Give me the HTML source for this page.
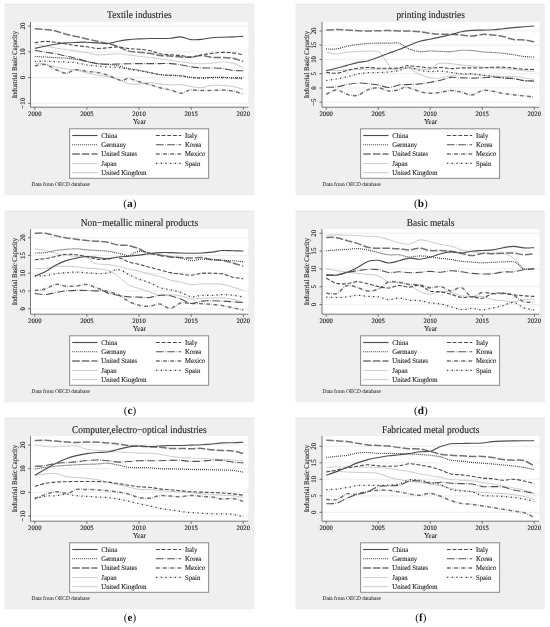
<!DOCTYPE html>
<html><head><meta charset="utf-8"><title>Industrial Basic Capacity</title>
<style>
html,body{margin:0;padding:0;background:#fff;}
svg{display:block;font-family:"Liberation Serif", "Times New Roman", serif;text-rendering:geometricPrecision;}
</style></head><body>
<svg width="550" height="627" viewBox="0 0 550 627">
<rect x="4.3" y="3.5" width="250.2" height="191.8" fill="#efefef"/>
<path d="M5.3,4.7H253.5" stroke="#e8e8e8" stroke-width="1"/>
<rect x="30.5" y="22" width="217.8" height="85.2" fill="#ffffff"/>
<line x1="30.5" x2="248.3" y1="103.3" y2="103.3" stroke="#eaeaea" stroke-width="0.8"/>
<line x1="30.5" x2="248.3" y1="77.57" y2="77.57" stroke="#eaeaea" stroke-width="0.8"/>
<line x1="30.5" x2="248.3" y1="51.83" y2="51.83" stroke="#eaeaea" stroke-width="0.8"/>
<line x1="30.5" x2="248.3" y1="26.1" y2="26.1" stroke="#eaeaea" stroke-width="0.8"/>
<path d="M34.8,44.2C36.54,44.5 41.75,45.37 45.22,46C48.7,46.63 52.17,47.42 55.65,48C59.12,48.58 62.6,49 66.07,49.5C69.55,50 73.03,50.47 76.5,51C79.97,51.53 83.45,52.05 86.92,52.7C90.4,53.35 93.88,54.62 97.35,54.9C100.82,55.18 104.3,54.58 107.77,54.4C111.25,54.22 114.72,53.72 118.2,53.8C121.68,53.88 125.15,54.48 128.62,54.9C132.1,55.32 135.58,55.87 139.05,56.3C142.53,56.73 146,57.1 149.47,57.5C152.95,57.9 156.42,58.22 159.9,58.7C163.37,59.18 166.85,59.85 170.32,60.4C173.8,60.95 177.28,61.55 180.75,62C184.22,62.45 187.7,62.8 191.18,63.1C194.65,63.4 198.13,63.8 201.6,63.8C205.08,63.8 208.55,63.4 212.02,63.1C215.5,62.8 218.97,62 222.45,62C225.92,62 229.4,62.1 232.88,63.1C236.35,64.1 241.56,67.18 243.3,68" fill="none" stroke="#d2d2d2" stroke-width="1.1"/>
<path d="M34.8,63.1C36.54,63.27 41.75,63.47 45.22,64.1C48.7,64.73 52.17,66.1 55.65,66.9C59.12,67.7 62.6,68.35 66.07,68.9C69.55,69.45 73.03,69.52 76.5,70.2C79.97,70.88 83.45,72.17 86.92,73C90.4,73.83 93.88,74.57 97.35,75.2C100.82,75.83 104.3,76.08 107.77,76.8C111.25,77.52 114.72,78.37 118.2,79.5C121.68,80.63 125.15,82.82 128.62,83.6C132.1,84.38 135.58,84.33 139.05,84.2C142.53,84.07 146,82.85 149.47,82.8C152.95,82.75 156.42,83.53 159.9,83.9C163.37,84.27 166.85,84.9 170.32,85C173.8,85.1 177.28,84.23 180.75,84.5C184.22,84.77 187.7,86.07 191.18,86.6C194.65,87.13 198.13,87.92 201.6,87.7C205.08,87.48 208.55,85.67 212.02,85.3C215.5,84.93 218.97,85.32 222.45,85.5C225.92,85.68 229.4,85.75 232.88,86.4C236.35,87.05 241.56,88.9 243.3,89.4" fill="none" stroke="#c8c8c8" stroke-width="1.0"/>
<path d="M34.8,28.7C36.54,28.85 41.75,29.23 45.22,29.6C48.7,29.97 52.17,30.13 55.65,30.9C59.12,31.67 62.6,33.25 66.07,34.2C69.55,35.15 73.03,35.82 76.5,36.6C79.97,37.38 83.45,38.12 86.92,38.9C90.4,39.68 93.88,40.53 97.35,41.3C100.82,42.07 104.3,42.6 107.77,43.5C111.25,44.4 114.72,45.43 118.2,46.7C121.68,47.97 125.15,50.18 128.62,51.1C132.1,52.02 135.58,51.83 139.05,52.2C142.53,52.57 146,52.75 149.47,53.3C152.95,53.85 156.42,55.05 159.9,55.5C163.37,55.95 166.85,55.73 170.32,56C173.8,56.27 177.28,56.92 180.75,57.1C184.22,57.28 187.7,57.37 191.18,57.1C194.65,56.83 198.13,55.47 201.6,55.5C205.08,55.53 208.55,56.95 212.02,57.3C215.5,57.65 218.97,57.45 222.45,57.6C225.92,57.75 229.4,57.55 232.88,58.2C236.35,58.85 241.56,60.95 243.3,61.5" fill="none" stroke="#727272" stroke-width="1.5" stroke-dasharray="7.6 2"/>
<path d="M34.8,65.8C36.54,65.6 41.75,63.98 45.22,64.6C48.7,65.22 52.17,68.03 55.65,69.5C59.12,70.97 63.47,73.12 66.07,73.4C68.68,73.68 69.55,71.82 71.29,71.2C73.02,70.58 73.89,69.67 76.5,69.7C79.11,69.73 83.45,70.93 86.92,71.4C90.4,71.87 93.88,71.87 97.35,72.5C100.82,73.13 104.3,74.03 107.77,75.2C111.25,76.37 115.77,78.6 118.2,79.5C120.63,80.4 120.63,80.77 122.37,80.6C124.11,80.43 125.85,78.32 128.62,78.5C131.4,78.68 135.58,80.7 139.05,81.7C142.53,82.7 146,83.5 149.47,84.5C152.95,85.5 156.42,86.8 159.9,87.7C163.37,88.6 166.85,88.98 170.32,89.9C173.8,90.82 178.14,92.93 180.75,93.2C183.36,93.47 184.22,92.05 185.96,91.5C187.7,90.95 188.57,90.07 191.18,89.9C193.78,89.73 198.13,90.4 201.6,90.5C205.08,90.6 208.55,90.57 212.02,90.5C215.5,90.43 218.97,90.02 222.45,90.1C225.92,90.18 229.4,90.3 232.88,91C236.35,91.7 241.56,93.75 243.3,94.3" fill="none" stroke="#707070" stroke-width="1.5" stroke-dasharray="3.8 1.45 0.5 1.45"/>
<path d="M34.8,50.3C36.54,50.62 41.75,51.62 45.22,52.2C48.7,52.78 52.17,53.17 55.65,53.8C59.12,54.43 62.6,55.23 66.07,56C69.55,56.77 73.03,57.48 76.5,58.4C79.97,59.32 83.45,60.63 86.92,61.5C90.4,62.37 93.88,63.15 97.35,63.6C100.82,64.05 104.3,64.13 107.77,64.2C111.25,64.27 114.72,64.07 118.2,64C121.68,63.93 125.15,63.87 128.62,63.8C132.1,63.73 135.58,63.63 139.05,63.6C142.53,63.57 146,63.6 149.47,63.6C152.95,63.6 156.42,63.6 159.9,63.6C163.37,63.6 166.85,63.42 170.32,63.6C173.8,63.78 177.28,64.15 180.75,64.7C184.22,65.25 187.7,66.38 191.18,66.9C194.65,67.42 198.13,67.62 201.6,67.8C205.08,67.98 208.55,67.88 212.02,68C215.5,68.12 218.97,68.1 222.45,68.5C225.92,68.9 229.4,70.03 232.88,70.4C236.35,70.77 241.56,70.65 243.3,70.7" fill="none" stroke="#505050" stroke-width="1.1" stroke-dasharray="7.7 1.5 0.6 1.5"/>
<path d="M34.8,42.7C36.54,42.47 41.75,41.35 45.22,41.3C48.7,41.25 52.17,41.95 55.65,42.4C59.12,42.85 62.6,43.47 66.07,44C69.55,44.53 73.03,45.15 76.5,45.6C79.97,46.05 83.45,46.23 86.92,46.7C90.4,47.17 93.88,48.22 97.35,48.4C100.82,48.58 104.3,48.05 107.77,47.8C111.25,47.55 114.72,46.77 118.2,46.9C121.68,47.03 125.15,48.2 128.62,48.6C132.1,49 135.58,48.98 139.05,49.3C142.53,49.62 146,49.75 149.47,50.5C152.95,51.25 156.42,53.1 159.9,53.8C163.37,54.5 166.85,54.42 170.32,54.7C173.8,54.98 177.28,55.1 180.75,55.5C184.22,55.9 187.7,57.2 191.18,57.1C194.65,57 198.13,55.53 201.6,54.9C205.08,54.27 208.55,53.72 212.02,53.3C215.5,52.88 218.97,52.47 222.45,52.4C225.92,52.33 229.4,52.52 232.88,52.9C236.35,53.28 241.56,54.4 243.3,54.7" fill="none" stroke="#4a4a4a" stroke-width="1.1" stroke-dasharray="3.9 1.8"/>
<path d="M34.8,61.5C36.54,61.45 41.75,61.17 45.22,61.2C48.7,61.23 52.17,61.57 55.65,61.7C59.12,61.83 62.6,61.82 66.07,62C69.55,62.18 73.03,62.3 76.5,62.8C79.97,63.3 83.45,64.47 86.92,65C90.4,65.53 93.88,65.67 97.35,66C100.82,66.33 104.3,66.75 107.77,67C111.25,67.25 114.72,67.13 118.2,67.5C121.68,67.87 125.15,68.65 128.62,69.2C132.1,69.75 135.58,70.25 139.05,70.8C142.53,71.35 146,71.87 149.47,72.5C152.95,73.13 156.42,74.1 159.9,74.6C163.37,75.1 166.85,75.27 170.32,75.5C173.8,75.73 177.28,75.65 180.75,76C184.22,76.35 187.7,77.23 191.18,77.6C194.65,77.97 198.13,78.17 201.6,78.2C205.08,78.23 208.55,77.87 212.02,77.8C215.5,77.73 218.97,77.73 222.45,77.8C225.92,77.87 229.4,78.03 232.88,78.2C236.35,78.37 241.56,78.7 243.3,78.8" fill="none" stroke="#404040" stroke-width="1.25" stroke-dasharray="1.4 1.5 0.3 1.5"/>
<path d="M34.8,56.5C36.54,56.58 41.75,56.82 45.22,57C48.7,57.18 52.17,57.4 55.65,57.6C59.12,57.8 62.6,57.88 66.07,58.2C69.55,58.52 73.03,58.95 76.5,59.5C79.97,60.05 83.45,60.82 86.92,61.5C90.4,62.18 93.88,63.15 97.35,63.6C100.82,64.05 104.3,63.83 107.77,64.2C111.25,64.57 114.72,65.08 118.2,65.8C121.68,66.52 125.15,67.77 128.62,68.5C132.1,69.23 135.58,69.53 139.05,70.2C142.53,70.87 146,71.77 149.47,72.5C152.95,73.23 156.42,74.15 159.9,74.6C163.37,75.05 166.85,75.02 170.32,75.2C173.8,75.38 177.28,75.33 180.75,75.7C184.22,76.07 187.7,77.03 191.18,77.4C194.65,77.77 198.13,77.9 201.6,77.9C205.08,77.9 208.55,77.48 212.02,77.4C215.5,77.32 218.97,77.32 222.45,77.4C225.92,77.48 229.4,77.82 232.88,77.9C236.35,77.98 241.56,77.9 243.3,77.9" fill="none" stroke="#333333" stroke-width="1.15" stroke-dasharray="0.95 1.05"/>
<path d="M34.8,48.4C36.54,48.03 41.75,46.9 45.22,46.2C48.7,45.5 52.17,44.75 55.65,44.2C59.12,43.65 62.6,43.2 66.07,42.9C69.55,42.6 73.03,42.52 76.5,42.4C79.97,42.28 83.45,42.12 86.92,42.2C90.4,42.28 93.88,42.68 97.35,42.9C100.82,43.12 104.3,43.77 107.77,43.5C111.25,43.23 114.72,41.95 118.2,41.3C121.68,40.65 125.15,40 128.62,39.6C132.1,39.2 135.58,39.08 139.05,38.9C142.53,38.72 146,38.57 149.47,38.5C152.95,38.43 156.42,38.53 159.9,38.5C163.37,38.47 166.85,38.57 170.32,38.3C173.8,38.03 177.28,36.68 180.75,36.9C184.22,37.12 187.7,39.18 191.18,39.6C194.65,40.02 198.13,39.72 201.6,39.4C205.08,39.08 208.55,38.07 212.02,37.7C215.5,37.33 218.97,37.33 222.45,37.2C225.92,37.07 229.4,37.03 232.88,36.9C236.35,36.77 241.56,36.48 243.3,36.4" fill="none" stroke="#4d4d4d" stroke-width="1.15"/>
<line x1="30.5" x2="30.5" y1="22" y2="107.2" stroke="#555" stroke-width="0.8"/>
<line x1="30.5" x2="248.3" y1="107.2" y2="107.2" stroke="#555" stroke-width="0.8"/>
<line x1="28" x2="30.5" y1="103.3" y2="103.3" stroke="#555" stroke-width="0.8"/>
<text transform="translate(24.6 103.3) rotate(-90) scale(1 1.02)" font-size="6.9" text-anchor="middle" fill="#222" stroke="#222" stroke-width="0.1">−10</text>
<line x1="28" x2="30.5" y1="77.57" y2="77.57" stroke="#555" stroke-width="0.8"/>
<text transform="translate(24.6 77.57) rotate(-90) scale(1 1.02)" font-size="6.9" text-anchor="middle" fill="#222" stroke="#222" stroke-width="0.1">0</text>
<line x1="28" x2="30.5" y1="51.83" y2="51.83" stroke="#555" stroke-width="0.8"/>
<text transform="translate(24.6 51.83) rotate(-90) scale(1 1.02)" font-size="6.9" text-anchor="middle" fill="#222" stroke="#222" stroke-width="0.1">10</text>
<line x1="28" x2="30.5" y1="26.1" y2="26.1" stroke="#555" stroke-width="0.8"/>
<text transform="translate(24.6 26.1) rotate(-90) scale(1 1.02)" font-size="6.9" text-anchor="middle" fill="#222" stroke="#222" stroke-width="0.1">20</text>
<line x1="34.8" x2="34.8" y1="107.2" y2="109.8" stroke="#555" stroke-width="0.8"/>
<text transform="translate(34.8 116.2) scale(1 1.0)" font-size="6.7" text-anchor="middle" fill="#222" stroke="#222" stroke-width="0.14">2000</text>
<line x1="86.92" x2="86.92" y1="107.2" y2="109.8" stroke="#555" stroke-width="0.8"/>
<text transform="translate(86.92 116.2) scale(1 1.0)" font-size="6.7" text-anchor="middle" fill="#222" stroke="#222" stroke-width="0.14">2005</text>
<line x1="139.05" x2="139.05" y1="107.2" y2="109.8" stroke="#555" stroke-width="0.8"/>
<text transform="translate(139.05 116.2) scale(1 1.0)" font-size="6.7" text-anchor="middle" fill="#222" stroke="#222" stroke-width="0.14">2010</text>
<line x1="191.18" x2="191.18" y1="107.2" y2="109.8" stroke="#555" stroke-width="0.8"/>
<text transform="translate(191.18 116.2) scale(1 1.0)" font-size="6.7" text-anchor="middle" fill="#222" stroke="#222" stroke-width="0.14">2015</text>
<line x1="243.3" x2="243.3" y1="107.2" y2="109.8" stroke="#555" stroke-width="0.8"/>
<text transform="translate(243.3 116.2) scale(1 1.0)" font-size="6.7" text-anchor="middle" fill="#222" stroke="#222" stroke-width="0.14">2020</text>
<text transform="translate(139.4 123.6) scale(1 1.08)" font-size="6.95" text-anchor="middle" fill="#222" stroke="#222" stroke-width="0.1">Year</text>
<text transform="translate(17.1 64.6) rotate(-90) scale(1 1.08)" font-size="6.65" text-anchor="middle" fill="#222" stroke="#222" stroke-width="0.1">Industrial Basic Capacity</text>
<text transform="translate(139.4 18.4) scale(1 1.1)" font-size="9.38" text-anchor="middle" fill="#222" stroke="#222" stroke-width="0.1">Textile industries</text>
<rect x="69.6" y="128.8" width="139" height="49.5" fill="#ffffff" stroke="#8a8a8a" stroke-width="1"/>
<line x1="72.2" x2="97.5" y1="135.5" y2="135.5" stroke="#4d4d4d" stroke-width="1.15"/>
<text transform="translate(101.3 137.6) scale(1 1.06)" font-size="6.7" fill="#222" stroke="#222" stroke-width="0.1">China</text>
<line x1="72.2" x2="97.5" y1="144.7" y2="144.7" stroke="#333333" stroke-width="1.15" stroke-dasharray="0.95 1.05"/>
<text transform="translate(101.3 146.9) scale(1 1.06)" font-size="6.7" fill="#222" stroke="#222" stroke-width="0.1">Germany</text>
<line x1="72.2" x2="97.5" y1="154.1" y2="154.1" stroke="#727272" stroke-width="1.5" stroke-dasharray="7.6 2"/>
<text transform="translate(101.3 156.2) scale(1 1.06)" font-size="6.7" fill="#222" stroke="#222" stroke-width="0.1">United States</text>
<line x1="72.2" x2="97.5" y1="163.5" y2="163.5" stroke="#d2d2d2" stroke-width="1.1"/>
<text transform="translate(101.3 165.5) scale(1 1.06)" font-size="6.7" fill="#222" stroke="#222" stroke-width="0.1">Japan</text>
<line x1="72.2" x2="97.5" y1="172.7" y2="172.7" stroke="#c8c8c8" stroke-width="1.0"/>
<text transform="translate(101.3 174.8) scale(1 1.06)" font-size="6.7" fill="#222" stroke="#222" stroke-width="0.1">United Kingdom</text>
<line x1="155.9" x2="181.2" y1="135.5" y2="135.5" stroke="#4a4a4a" stroke-width="1.1" stroke-dasharray="3.9 1.8"/>
<text transform="translate(185 137.6) scale(1 1.06)" font-size="6.7" fill="#222" stroke="#222" stroke-width="0.1">Italy</text>
<line x1="155.9" x2="181.2" y1="144.7" y2="144.7" stroke="#505050" stroke-width="1.1" stroke-dasharray="7.7 1.5 0.6 1.5"/>
<text transform="translate(185 146.9) scale(1 1.06)" font-size="6.7" fill="#222" stroke="#222" stroke-width="0.1">Korea</text>
<line x1="155.9" x2="181.2" y1="154.1" y2="154.1" stroke="#707070" stroke-width="1.5" stroke-dasharray="3.8 1.45 0.5 1.45"/>
<text transform="translate(185 156.2) scale(1 1.06)" font-size="6.7" fill="#222" stroke="#222" stroke-width="0.1">Mexico</text>
<line x1="155.9" x2="181.2" y1="163.4" y2="163.4" stroke="#404040" stroke-width="1.25" stroke-dasharray="1.4 1.5 0.3 1.5"/>
<text transform="translate(185 165.5) scale(1 1.06)" font-size="6.7" fill="#222" stroke="#222" stroke-width="0.1">Spain</text>
<text transform="translate(31.5 186) scale(1 1.02)" font-size="5.45" fill="#222" stroke="#222" stroke-width="0.04">Data from OECD database</text>
<text transform="translate(129.9 207.2) scale(1 0.98)" font-size="11.2" text-anchor="middle" fill="#111" stroke="#111" stroke-width="0">(<tspan font-weight="bold">a</tspan>)</text>
<rect x="295.5" y="3.5" width="249.6" height="191.8" fill="#efefef"/>
<path d="M296.5,4.7H544.1" stroke="#e8e8e8" stroke-width="1"/>
<rect x="322" y="22" width="217.3" height="85.2" fill="#ffffff"/>
<line x1="322" x2="539.3" y1="102.2" y2="102.2" stroke="#eaeaea" stroke-width="0.8"/>
<line x1="322" x2="539.3" y1="87.94" y2="87.94" stroke="#eaeaea" stroke-width="0.8"/>
<line x1="322" x2="539.3" y1="73.68" y2="73.68" stroke="#eaeaea" stroke-width="0.8"/>
<line x1="322" x2="539.3" y1="59.42" y2="59.42" stroke="#eaeaea" stroke-width="0.8"/>
<line x1="322" x2="539.3" y1="45.16" y2="45.16" stroke="#eaeaea" stroke-width="0.8"/>
<line x1="322" x2="539.3" y1="30.9" y2="30.9" stroke="#eaeaea" stroke-width="0.8"/>
<path d="M326.2,52.2C327.93,52.5 333.14,54 336.6,54C340.07,54 343.54,52.6 347.01,52.2C350.48,51.8 353.95,51.78 357.41,51.6C360.88,51.42 364.35,51.12 367.82,51.1C371.29,51.08 375.62,50.52 378.22,51.5C380.83,52.48 381.69,54.75 383.43,57C385.16,59.25 387.24,63 388.63,65C390.02,67 390.02,68.33 391.75,69C393.49,69.67 396.09,69.15 399.03,69C401.98,68.85 406.84,67.7 409.44,68.1C412.04,68.5 412.91,70.32 414.64,71.4C416.38,72.48 417.24,73.52 419.84,74.6C422.45,75.68 426.78,77.33 430.25,77.9C433.72,78.47 437.19,78.37 440.65,78C444.12,77.63 447.59,76.3 451.06,75.7C454.53,75.1 458,74.62 461.46,74.4C464.93,74.18 468.4,74.27 471.87,74.4C475.34,74.53 478.81,74.93 482.27,75.2C485.74,75.47 489.21,75.78 492.68,76C496.15,76.22 499.62,76.45 503.08,76.5C506.55,76.55 510.02,76.05 513.49,76.3C516.96,76.55 520.43,77.47 523.89,78C527.36,78.53 532.57,79.25 534.3,79.5" fill="none" stroke="#d2d2d2" stroke-width="1.1"/>
<path d="M326.2,70.3C327.93,70.33 333.14,70.55 336.6,70.5C340.07,70.45 343.54,70.17 347.01,70C350.48,69.83 353.95,69.63 357.41,69.5C360.88,69.37 364.35,69.25 367.82,69.2C371.29,69.15 374.76,69.2 378.22,69.2C381.69,69.2 385.16,69.32 388.63,69.2C392.1,69.08 395.57,68.68 399.03,68.5C402.5,68.32 405.97,68.02 409.44,68.1C412.91,68.18 416.38,68.82 419.84,69C423.31,69.18 427.13,70.12 430.25,69.2C433.37,68.28 435.11,64.42 438.57,63.5C442.04,62.58 447.24,63.45 451.06,63.7C454.88,63.95 458,64.63 461.46,65C464.93,65.37 468.4,65.57 471.87,65.9C475.34,66.23 478.81,66.63 482.27,67C485.74,67.37 489.21,67.85 492.68,68.1C496.15,68.35 499.62,68.27 503.08,68.5C506.55,68.73 510.02,69.12 513.49,69.5C516.96,69.88 520.43,70.48 523.89,70.8C527.36,71.12 532.57,71.3 534.3,71.4" fill="none" stroke="#c8c8c8" stroke-width="1.0"/>
<path d="M326.2,30C327.93,29.93 333.14,29.6 336.6,29.6C340.07,29.6 343.54,29.82 347.01,30C350.48,30.18 353.95,30.52 357.41,30.7C360.88,30.88 364.35,31.1 367.82,31.1C371.29,31.1 374.76,30.78 378.22,30.7C381.69,30.62 385.16,30.57 388.63,30.6C392.1,30.63 395.57,30.82 399.03,30.9C402.5,30.98 405.97,30.95 409.44,31.1C412.91,31.25 416.38,31.43 419.84,31.8C423.31,32.17 426.78,32.9 430.25,33.3C433.72,33.7 437.19,34.05 440.65,34.2C444.12,34.35 447.59,34.05 451.06,34.2C454.53,34.35 458,34.78 461.46,35.1C464.93,35.42 468.4,36.22 471.87,36.1C475.34,35.98 478.81,34.57 482.27,34.4C485.74,34.23 489.21,34.77 492.68,35.1C496.15,35.43 499.62,35.65 503.08,36.4C506.55,37.15 510.02,39.02 513.49,39.6C516.96,40.18 520.43,39.53 523.89,39.9C527.36,40.27 532.57,41.48 534.3,41.8" fill="none" stroke="#727272" stroke-width="1.5" stroke-dasharray="7.6 2"/>
<path d="M326.2,94.3C327.93,93.57 333.14,89.9 336.6,89.9C340.07,89.9 343.54,93.38 347.01,94.3C350.48,95.22 353.95,96.13 357.41,95.4C360.88,94.67 364.35,91.18 367.82,89.9C371.29,88.62 374.76,87.52 378.22,87.7C381.69,87.88 385.16,90.67 388.63,91C392.1,91.33 396.09,90.33 399.03,89.7C401.98,89.07 402.85,86.9 406.32,87.2C409.79,87.5 415.86,90.48 419.84,91.5C423.83,92.52 426.78,93.17 430.25,93.3C433.72,93.43 437.19,92.77 440.65,92.3C444.12,91.83 447.59,90.53 451.06,90.5C454.53,90.47 458,91.33 461.46,92.1C464.93,92.87 468.4,95.37 471.87,95.1C475.34,94.83 478.81,91.15 482.27,90.5C485.74,89.85 489.21,90.72 492.68,91.2C496.15,91.68 499.62,92.8 503.08,93.4C506.55,94 510.02,94.38 513.49,94.8C516.96,95.22 520.43,95.53 523.89,95.9C527.36,96.27 532.57,96.82 534.3,97" fill="none" stroke="#707070" stroke-width="1.5" stroke-dasharray="3.8 1.45 0.5 1.45"/>
<path d="M326.2,87.2C327.93,87.15 333.14,87.35 336.6,86.9C340.07,86.45 343.54,85.13 347.01,84.5C350.48,83.87 353.95,83.25 357.41,83.1C360.88,82.95 364.35,83.28 367.82,83.6C371.29,83.92 374.76,84.35 378.22,85C381.69,85.65 385.16,87.5 388.63,87.5C392.1,87.5 395.57,85.5 399.03,85C402.5,84.5 405.97,84.68 409.44,84.5C412.91,84.32 416.38,84.27 419.84,83.9C423.31,83.53 426.78,82.9 430.25,82.3C433.72,81.7 437.19,81.12 440.65,80.3C444.12,79.48 447.59,77.8 451.06,77.4C454.53,77 458,77.78 461.46,77.9C464.93,78.02 468.4,78.1 471.87,78.1C475.34,78.1 478.81,78.08 482.27,77.9C485.74,77.72 489.21,77 492.68,77C496.15,77 499.62,77.65 503.08,77.9C506.55,78.15 510.02,78.05 513.49,78.5C516.96,78.95 520.43,80.18 523.89,80.6C527.36,81.02 532.57,80.93 534.3,81" fill="none" stroke="#505050" stroke-width="1.1" stroke-dasharray="7.7 1.5 0.6 1.5"/>
<path d="M326.2,72.4C327.93,72.53 333.14,73.52 336.6,73.2C340.07,72.88 343.54,71.33 347.01,70.5C350.48,69.67 353.95,68.7 357.41,68.2C360.88,67.7 364.35,67.5 367.82,67.5C371.29,67.5 374.76,68.07 378.22,68.2C381.69,68.33 385.16,68.33 388.63,68.3C392.1,68.27 396.09,68.42 399.03,68C401.98,67.58 404.58,66.15 406.32,65.8C408.05,65.45 407.19,65.73 409.44,65.9C411.69,66.07 416.38,66.45 419.84,66.8C423.31,67.15 426.78,67.88 430.25,68C433.72,68.12 437.19,67.4 440.65,67.5C444.12,67.6 447.59,68.53 451.06,68.6C454.53,68.67 458,68.02 461.46,67.9C464.93,67.78 468.4,67.9 471.87,67.9C475.34,67.9 478.81,68 482.27,67.9C485.74,67.8 489.21,67.42 492.68,67.3C496.15,67.18 499.62,67.07 503.08,67.2C506.55,67.33 510.02,67.77 513.49,68.1C516.96,68.43 520.43,68.97 523.89,69.2C527.36,69.43 532.57,69.45 534.3,69.5" fill="none" stroke="#4a4a4a" stroke-width="1.1" stroke-dasharray="3.9 1.8"/>
<path d="M326.2,80.6C327.93,80.33 333.14,79.63 336.6,79C340.07,78.37 343.54,77.62 347.01,76.8C350.48,75.98 353.95,74.78 357.41,74.1C360.88,73.42 364.35,72.97 367.82,72.7C371.29,72.43 374.76,72.62 378.22,72.5C381.69,72.38 385.16,72.33 388.63,72C392.1,71.67 396.26,71.15 399.03,70.5C401.81,69.85 403.54,68.6 405.28,68.1C407.01,67.6 407.01,67.13 409.44,67.5C411.87,67.87 416.38,69.62 419.84,70.3C423.31,70.98 426.78,71.47 430.25,71.6C433.72,71.73 437.19,70.95 440.65,71.1C444.12,71.25 447.59,72.05 451.06,72.5C454.53,72.95 458,73.58 461.46,73.8C464.93,74.02 468.4,73.57 471.87,73.8C475.34,74.03 478.81,74.75 482.27,75.2C485.74,75.65 489.21,76.05 492.68,76.5C496.15,76.95 499.62,77.57 503.08,77.9C506.55,78.23 510.02,78.05 513.49,78.5C516.96,78.95 520.43,80.15 523.89,80.6C527.36,81.05 532.57,81.1 534.3,81.2" fill="none" stroke="#404040" stroke-width="1.25" stroke-dasharray="1.4 1.5 0.3 1.5"/>
<path d="M326.2,48.9C327.93,48.9 333.14,49.35 336.6,48.9C340.07,48.45 343.54,46.93 347.01,46.2C350.48,45.47 353.95,44.95 357.41,44.5C360.88,44.05 364.35,43.73 367.82,43.5C371.29,43.27 374.76,43.17 378.22,43.1C381.69,43.03 385.16,43.1 388.63,43.1C392.1,43.1 396.43,42.58 399.03,43.1C401.64,43.62 402.5,45.18 404.24,46.2C405.97,47.22 406.84,48.3 409.44,49.2C412.04,50.1 416.38,51.3 419.84,51.6C423.31,51.9 426.78,51.03 430.25,51C433.72,50.97 437.19,51.3 440.65,51.4C444.12,51.5 447.59,51.78 451.06,51.6C454.53,51.42 458,50.48 461.46,50.3C464.93,50.12 468.4,50.23 471.87,50.5C475.34,50.77 478.81,51.57 482.27,51.9C485.74,52.23 489.21,52.27 492.68,52.5C496.15,52.73 499.62,52.93 503.08,53.3C506.55,53.67 510.02,54.17 513.49,54.7C516.96,55.23 520.43,56.1 523.89,56.5C527.36,56.9 532.57,57 534.3,57.1" fill="none" stroke="#333333" stroke-width="1.15" stroke-dasharray="0.95 1.05"/>
<path d="M326.2,70.6C327.93,70.22 333.14,69.17 336.6,68.3C340.07,67.43 343.54,66.35 347.01,65.4C350.48,64.45 353.95,63.33 357.41,62.6C360.88,61.87 364.35,61.9 367.82,61C371.29,60.1 374.76,58.48 378.22,57.2C381.69,55.92 385.16,54.58 388.63,53.3C392.1,52.02 395.57,50.83 399.03,49.5C402.5,48.17 405.97,46.67 409.44,45.3C412.91,43.93 416.38,42.32 419.84,41.3C423.31,40.28 426.78,39.93 430.25,39.2C433.72,38.47 437.19,37.65 440.65,36.9C444.12,36.15 447.59,35.55 451.06,34.7C454.53,33.85 458,32.52 461.46,31.8C464.93,31.08 468.4,30.68 471.87,30.4C475.34,30.12 478.81,30.2 482.27,30.1C485.74,30 489.21,30.03 492.68,29.8C496.15,29.57 499.62,29.07 503.08,28.7C506.55,28.33 510.02,27.92 513.49,27.6C516.96,27.28 520.43,27.07 523.89,26.8C527.36,26.53 532.57,26.13 534.3,26" fill="none" stroke="#4d4d4d" stroke-width="1.15"/>
<line x1="322" x2="322" y1="22" y2="107.2" stroke="#555" stroke-width="0.8"/>
<line x1="322" x2="539.3" y1="107.2" y2="107.2" stroke="#555" stroke-width="0.8"/>
<line x1="319.5" x2="322" y1="102.2" y2="102.2" stroke="#555" stroke-width="0.8"/>
<text transform="translate(316.1 102.2) rotate(-90) scale(1 1.02)" font-size="6.9" text-anchor="middle" fill="#222" stroke="#222" stroke-width="0.1">−5</text>
<line x1="319.5" x2="322" y1="87.94" y2="87.94" stroke="#555" stroke-width="0.8"/>
<text transform="translate(316.1 87.94) rotate(-90) scale(1 1.02)" font-size="6.9" text-anchor="middle" fill="#222" stroke="#222" stroke-width="0.1">0</text>
<line x1="319.5" x2="322" y1="73.68" y2="73.68" stroke="#555" stroke-width="0.8"/>
<text transform="translate(316.1 73.68) rotate(-90) scale(1 1.02)" font-size="6.9" text-anchor="middle" fill="#222" stroke="#222" stroke-width="0.1">5</text>
<line x1="319.5" x2="322" y1="59.42" y2="59.42" stroke="#555" stroke-width="0.8"/>
<text transform="translate(316.1 59.42) rotate(-90) scale(1 1.02)" font-size="6.9" text-anchor="middle" fill="#222" stroke="#222" stroke-width="0.1">10</text>
<line x1="319.5" x2="322" y1="45.16" y2="45.16" stroke="#555" stroke-width="0.8"/>
<text transform="translate(316.1 45.16) rotate(-90) scale(1 1.02)" font-size="6.9" text-anchor="middle" fill="#222" stroke="#222" stroke-width="0.1">15</text>
<line x1="319.5" x2="322" y1="30.9" y2="30.9" stroke="#555" stroke-width="0.8"/>
<text transform="translate(316.1 30.9) rotate(-90) scale(1 1.02)" font-size="6.9" text-anchor="middle" fill="#222" stroke="#222" stroke-width="0.1">20</text>
<line x1="326.2" x2="326.2" y1="107.2" y2="109.8" stroke="#555" stroke-width="0.8"/>
<text transform="translate(326.2 116.2) scale(1 1.0)" font-size="6.7" text-anchor="middle" fill="#222" stroke="#222" stroke-width="0.14">2000</text>
<line x1="378.22" x2="378.22" y1="107.2" y2="109.8" stroke="#555" stroke-width="0.8"/>
<text transform="translate(378.22 116.2) scale(1 1.0)" font-size="6.7" text-anchor="middle" fill="#222" stroke="#222" stroke-width="0.14">2005</text>
<line x1="430.25" x2="430.25" y1="107.2" y2="109.8" stroke="#555" stroke-width="0.8"/>
<text transform="translate(430.25 116.2) scale(1 1.0)" font-size="6.7" text-anchor="middle" fill="#222" stroke="#222" stroke-width="0.14">2010</text>
<line x1="482.27" x2="482.27" y1="107.2" y2="109.8" stroke="#555" stroke-width="0.8"/>
<text transform="translate(482.27 116.2) scale(1 1.0)" font-size="6.7" text-anchor="middle" fill="#222" stroke="#222" stroke-width="0.14">2015</text>
<line x1="534.3" x2="534.3" y1="107.2" y2="109.8" stroke="#555" stroke-width="0.8"/>
<text transform="translate(534.3 116.2) scale(1 1.0)" font-size="6.7" text-anchor="middle" fill="#222" stroke="#222" stroke-width="0.14">2020</text>
<text transform="translate(430.65 123.6) scale(1 1.08)" font-size="6.95" text-anchor="middle" fill="#222" stroke="#222" stroke-width="0.1">Year</text>
<text transform="translate(308.6 64.6) rotate(-90) scale(1 1.08)" font-size="6.65" text-anchor="middle" fill="#222" stroke="#222" stroke-width="0.1">Industrial Basic Capacity</text>
<text transform="translate(430.65 18.4) scale(1 1.1)" font-size="9.38" text-anchor="middle" fill="#222" stroke="#222" stroke-width="0.1">printing industries</text>
<rect x="360.6" y="128.8" width="139" height="49.5" fill="#ffffff" stroke="#8a8a8a" stroke-width="1"/>
<line x1="363.2" x2="388.5" y1="135.5" y2="135.5" stroke="#4d4d4d" stroke-width="1.15"/>
<text transform="translate(392.3 137.6) scale(1 1.06)" font-size="6.7" fill="#222" stroke="#222" stroke-width="0.1">China</text>
<line x1="363.2" x2="388.5" y1="144.7" y2="144.7" stroke="#333333" stroke-width="1.15" stroke-dasharray="0.95 1.05"/>
<text transform="translate(392.3 146.9) scale(1 1.06)" font-size="6.7" fill="#222" stroke="#222" stroke-width="0.1">Germany</text>
<line x1="363.2" x2="388.5" y1="154.1" y2="154.1" stroke="#727272" stroke-width="1.5" stroke-dasharray="7.6 2"/>
<text transform="translate(392.3 156.2) scale(1 1.06)" font-size="6.7" fill="#222" stroke="#222" stroke-width="0.1">United States</text>
<line x1="363.2" x2="388.5" y1="163.5" y2="163.5" stroke="#d2d2d2" stroke-width="1.1"/>
<text transform="translate(392.3 165.5) scale(1 1.06)" font-size="6.7" fill="#222" stroke="#222" stroke-width="0.1">Japan</text>
<line x1="363.2" x2="388.5" y1="172.7" y2="172.7" stroke="#c8c8c8" stroke-width="1.0"/>
<text transform="translate(392.3 174.8) scale(1 1.06)" font-size="6.7" fill="#222" stroke="#222" stroke-width="0.1">United Kingdom</text>
<line x1="446.9" x2="472.2" y1="135.5" y2="135.5" stroke="#4a4a4a" stroke-width="1.1" stroke-dasharray="3.9 1.8"/>
<text transform="translate(476 137.6) scale(1 1.06)" font-size="6.7" fill="#222" stroke="#222" stroke-width="0.1">Italy</text>
<line x1="446.9" x2="472.2" y1="144.7" y2="144.7" stroke="#505050" stroke-width="1.1" stroke-dasharray="7.7 1.5 0.6 1.5"/>
<text transform="translate(476 146.9) scale(1 1.06)" font-size="6.7" fill="#222" stroke="#222" stroke-width="0.1">Korea</text>
<line x1="446.9" x2="472.2" y1="154.1" y2="154.1" stroke="#707070" stroke-width="1.5" stroke-dasharray="3.8 1.45 0.5 1.45"/>
<text transform="translate(476 156.2) scale(1 1.06)" font-size="6.7" fill="#222" stroke="#222" stroke-width="0.1">Mexico</text>
<line x1="446.9" x2="472.2" y1="163.4" y2="163.4" stroke="#404040" stroke-width="1.25" stroke-dasharray="1.4 1.5 0.3 1.5"/>
<text transform="translate(476 165.5) scale(1 1.06)" font-size="6.7" fill="#222" stroke="#222" stroke-width="0.1">Spain</text>
<text transform="translate(322.5 186) scale(1 1.02)" font-size="5.45" fill="#222" stroke="#222" stroke-width="0.04">Data from OECD database</text>
<text transform="translate(420.9 207.2) scale(1 0.98)" font-size="11.2" text-anchor="middle" fill="#111" stroke="#111" stroke-width="0">(<tspan font-weight="bold">b</tspan>)</text>
<rect x="4.3" y="210.5" width="250.2" height="191.8" fill="#efefef"/>
<path d="M5.3,211.7H253.5" stroke="#e8e8e8" stroke-width="1"/>
<rect x="30.5" y="229" width="217.8" height="85.2" fill="#ffffff"/>
<line x1="30.5" x2="248.3" y1="308.7" y2="308.7" stroke="#eaeaea" stroke-width="0.8"/>
<line x1="30.5" x2="248.3" y1="290.95" y2="290.95" stroke="#eaeaea" stroke-width="0.8"/>
<line x1="30.5" x2="248.3" y1="273.2" y2="273.2" stroke="#eaeaea" stroke-width="0.8"/>
<line x1="30.5" x2="248.3" y1="255.45" y2="255.45" stroke="#eaeaea" stroke-width="0.8"/>
<line x1="30.5" x2="248.3" y1="237.7" y2="237.7" stroke="#eaeaea" stroke-width="0.8"/>
<path d="M34.8,248.8C36.54,249.08 41.75,249.77 45.22,250.5C48.7,251.23 52.17,252.43 55.65,253.2C59.12,253.97 62.6,254.55 66.07,255.1C69.55,255.65 73.03,256.1 76.5,256.5C79.97,256.9 83.8,256.33 86.92,257.5C90.05,258.67 91.79,262.32 95.26,263.5C98.74,264.68 103.95,264.13 107.77,264.6C111.6,265.07 114.72,265.57 118.2,266.3C121.68,267.03 125.15,268.17 128.62,269C132.1,269.83 135.58,270.47 139.05,271.3C142.53,272.13 146,273.1 149.47,274C152.95,274.9 156.42,275.7 159.9,276.7C163.37,277.7 166.85,279.08 170.32,280C173.8,280.92 177.28,281.43 180.75,282.2C184.22,282.97 187.7,284.33 191.18,284.6C194.65,284.87 198.13,283.93 201.6,283.8C205.08,283.67 208.55,283.7 212.02,283.8C215.5,283.9 218.97,283.85 222.45,284.4C225.92,284.95 229.4,286.07 232.88,287.1C236.35,288.13 241.56,290.02 243.3,290.6" fill="none" stroke="#d2d2d2" stroke-width="1.1"/>
<path d="M34.8,268.5C36.54,268.5 41.75,268.87 45.22,268.5C48.7,268.13 52.17,266.67 55.65,266.3C59.12,265.93 62.6,266.22 66.07,266.3C69.55,266.38 73.03,266.48 76.5,266.8C79.97,267.12 83.45,267.9 86.92,268.2C90.4,268.5 93.88,268.27 97.35,268.6C100.82,268.93 105.17,269.48 107.77,270.2C110.38,270.92 111.25,271.9 112.99,272.9C114.72,273.9 116.29,274.75 118.2,276.2C120.11,277.65 122.72,280.15 124.45,281.6C126.19,283.05 126.19,283.75 128.62,284.9C131.06,286.05 135.58,287.32 139.05,288.5C142.53,289.68 146,290.87 149.47,292C152.95,293.13 156.42,294.85 159.9,295.3C163.37,295.75 166.85,294.62 170.32,294.7C173.8,294.78 177.28,295.07 180.75,295.8C184.22,296.53 187.7,298.7 191.18,299.1C194.65,299.5 198.13,298.38 201.6,298.2C205.08,298.02 208.55,298.03 212.02,298C215.5,297.97 218.97,297.82 222.45,298C225.92,298.18 229.4,298.37 232.88,299.1C236.35,299.83 241.56,301.85 243.3,302.4" fill="none" stroke="#c8c8c8" stroke-width="1.0"/>
<path d="M34.8,233.3C36.54,233.3 41.75,232.9 45.22,233.3C48.7,233.7 52.17,234.93 55.65,235.7C59.12,236.47 62.6,237.32 66.07,237.9C69.55,238.48 73.03,238.75 76.5,239.2C79.97,239.65 83.45,240.27 86.92,240.6C90.4,240.93 93.88,240.92 97.35,241.2C100.82,241.48 104.3,241.67 107.77,242.3C111.25,242.93 114.72,244.47 118.2,245C121.68,245.53 125.15,244.87 128.62,245.5C132.1,246.13 136.44,247.75 139.05,248.8C141.66,249.85 142.52,251.07 144.26,251.8C146,252.53 146.87,252.6 149.47,253.2C152.08,253.8 156.42,254.77 159.9,255.4C163.37,256.03 166.85,256.65 170.32,257C173.8,257.35 177.28,257.32 180.75,257.5C184.22,257.68 187.7,258.1 191.18,258.1C194.65,258.1 198.13,257.23 201.6,257.5C205.08,257.77 208.55,259.23 212.02,259.7C215.5,260.17 218.97,259.75 222.45,260.3C225.92,260.85 229.4,262.03 232.88,263C236.35,263.97 241.56,265.58 243.3,266.1" fill="none" stroke="#727272" stroke-width="1.5" stroke-dasharray="7.6 2"/>
<path d="M34.8,290.6C36.54,290.33 41.75,290.03 45.22,289C48.7,287.97 52.17,284.87 55.65,284.4C59.12,283.93 62.6,285.93 66.07,286.2C69.55,286.47 73.03,286.28 76.5,286C79.97,285.72 83.45,284.13 86.92,284.5C90.4,284.87 93.88,287.03 97.35,288.2C100.82,289.37 104.3,290.42 107.77,291.5C111.25,292.58 114.72,293.07 118.2,294.7C121.68,296.33 125.15,299.53 128.62,301.3C132.1,303.07 135.58,304.48 139.05,305.3C142.53,306.12 146,306.42 149.47,306.2C152.95,305.98 156.42,303.63 159.9,304C163.37,304.37 166.85,308.58 170.32,308.4C173.8,308.22 177.28,303.72 180.75,302.9C184.22,302.08 187.7,303.37 191.18,303.5C194.65,303.63 198.13,303.53 201.6,303.7C205.08,303.87 208.55,304.18 212.02,304.5C215.5,304.82 218.97,305.05 222.45,305.6C225.92,306.15 229.4,307.07 232.88,307.8C236.35,308.53 241.56,309.63 243.3,310" fill="none" stroke="#707070" stroke-width="1.5" stroke-dasharray="3.8 1.45 0.5 1.45"/>
<path d="M34.8,293.4C36.54,293.58 41.75,294.65 45.22,294.5C48.7,294.35 52.17,293.1 55.65,292.5C59.12,291.9 62.6,291.25 66.07,290.9C69.55,290.55 73.03,290.47 76.5,290.4C79.97,290.33 83.45,290.42 86.92,290.5C90.4,290.58 94.74,290.88 97.35,290.9C99.96,290.92 100.83,290.23 102.56,290.6C104.3,290.97 105.17,292.32 107.77,293.1C110.38,293.88 114.72,294.67 118.2,295.3C121.68,295.93 125.15,296.6 128.62,296.9C132.1,297.2 135.58,297 139.05,297.1C142.53,297.2 146,297.8 149.47,297.5C152.95,297.2 156.42,295.58 159.9,295.3C163.37,295.02 166.85,295.17 170.32,295.8C173.8,296.43 177.28,297.82 180.75,299.1C184.22,300.38 187.7,303.17 191.18,303.5C194.65,303.83 198.13,301.57 201.6,301.1C205.08,300.63 208.55,300.7 212.02,300.7C215.5,300.7 218.97,300.92 222.45,301.1C225.92,301.28 229.4,301.55 232.88,301.8C236.35,302.05 241.56,302.47 243.3,302.6" fill="none" stroke="#505050" stroke-width="1.1" stroke-dasharray="7.7 1.5 0.6 1.5"/>
<path d="M34.8,259.7C36.54,259.52 41.75,259.13 45.22,258.6C48.7,258.07 52.17,257.22 55.65,256.5C59.12,255.78 62.6,254.58 66.07,254.3C69.55,254.02 73.03,254.38 76.5,254.8C79.97,255.22 83.45,256.07 86.92,256.8C90.4,257.53 93.88,258.8 97.35,259.2C100.82,259.6 104.82,259.48 107.77,259.2C110.73,258.92 112.81,257.6 115.07,257.5C117.33,257.4 119.07,257.87 121.33,258.6C123.59,259.33 125.67,260.93 128.62,261.9C131.58,262.87 135.58,263.52 139.05,264.4C142.53,265.28 146,266.27 149.47,267.2C152.95,268.13 156.42,269.1 159.9,270C163.37,270.9 166.85,271.93 170.32,272.6C173.8,273.27 177.28,273.55 180.75,274C184.22,274.45 187.7,275.4 191.18,275.3C194.65,275.2 198.13,273.75 201.6,273.4C205.08,273.05 208.55,273.12 212.02,273.2C215.5,273.28 218.97,273.23 222.45,273.9C225.92,274.57 229.4,276.38 232.88,277.2C236.35,278.02 241.56,278.53 243.3,278.8" fill="none" stroke="#4a4a4a" stroke-width="1.1" stroke-dasharray="3.9 1.8"/>
<path d="M34.8,276.1C36.54,276.02 41.75,275.98 45.22,275.6C48.7,275.22 52.17,274.28 55.65,273.8C59.12,273.32 62.6,273 66.07,272.7C69.55,272.4 73.03,271.97 76.5,272C79.97,272.03 83.45,272.63 86.92,272.9C90.4,273.17 93.88,273.6 97.35,273.6C100.82,273.6 104.3,273.58 107.77,272.9C111.25,272.22 114.72,269.23 118.2,269.5C121.68,269.77 125.15,272.88 128.62,274.5C132.1,276.12 135.58,277.83 139.05,279.2C142.53,280.57 146,281.3 149.47,282.7C152.95,284.1 156.42,286.42 159.9,287.6C163.37,288.78 166.85,288.98 170.32,289.8C173.8,290.62 177.28,291.35 180.75,292.5C184.22,293.65 187.7,296.23 191.18,296.7C194.65,297.17 198.13,295.53 201.6,295.3C205.08,295.07 208.55,295.4 212.02,295.3C215.5,295.2 218.97,294.7 222.45,294.7C225.92,294.7 229.4,294.93 232.88,295.3C236.35,295.67 241.56,296.63 243.3,296.9" fill="none" stroke="#404040" stroke-width="1.25" stroke-dasharray="1.4 1.5 0.3 1.5"/>
<path d="M34.8,253C36.54,252.93 41.75,253.02 45.22,252.6C48.7,252.18 52.17,251.03 55.65,250.5C59.12,249.97 62.6,249.68 66.07,249.4C69.55,249.12 73.03,248.72 76.5,248.8C79.97,248.88 83.45,249.62 86.92,249.9C90.4,250.18 93.88,250.28 97.35,250.5C100.82,250.72 104.3,250.75 107.77,251.2C111.25,251.65 114.72,252.47 118.2,253.2C121.68,253.93 125.85,255.7 128.62,255.6C131.4,255.5 132.62,253.37 134.88,252.6C137.14,251.83 139.74,250.9 142.18,251C144.61,251.1 146.52,252.57 149.47,253.2C152.43,253.83 156.42,254.25 159.9,254.8C163.37,255.35 166.85,255.95 170.32,256.5C173.8,257.05 177.28,257.43 180.75,258.1C184.22,258.77 187.7,260.32 191.18,260.5C194.65,260.68 198.13,259.37 201.6,259.2C205.08,259.03 208.55,259.32 212.02,259.5C215.5,259.68 218.97,260.08 222.45,260.3C225.92,260.52 229.4,260.57 232.88,260.8C236.35,261.03 241.56,261.55 243.3,261.7" fill="none" stroke="#333333" stroke-width="1.15" stroke-dasharray="0.95 1.05"/>
<path d="M34.8,276.1C36.54,275.37 41.75,273.52 45.22,271.7C48.7,269.88 52.17,267.05 55.65,265.2C59.12,263.35 62.6,261.78 66.07,260.6C69.55,259.42 73.03,258.78 76.5,258.1C79.97,257.42 83.45,256.6 86.92,256.5C90.4,256.4 93.88,257.15 97.35,257.5C100.82,257.85 104.3,258.68 107.77,258.6C111.25,258.52 114.72,257.4 118.2,257C121.68,256.6 125.15,256.52 128.62,256.2C132.1,255.88 135.58,255.52 139.05,255.1C142.53,254.68 146,254.12 149.47,253.7C152.95,253.28 156.42,252.78 159.9,252.6C163.37,252.42 166.85,252.53 170.32,252.6C173.8,252.67 177.28,252.9 180.75,253C184.22,253.1 187.7,253.2 191.18,253.2C194.65,253.2 198.13,253.18 201.6,253C205.08,252.82 208.55,252.52 212.02,252.1C215.5,251.68 218.97,250.72 222.45,250.5C225.92,250.28 229.4,250.72 232.88,250.8C236.35,250.88 241.56,250.97 243.3,251" fill="none" stroke="#4d4d4d" stroke-width="1.15"/>
<line x1="30.5" x2="30.5" y1="229" y2="314.2" stroke="#555" stroke-width="0.8"/>
<line x1="30.5" x2="248.3" y1="314.2" y2="314.2" stroke="#555" stroke-width="0.8"/>
<line x1="28" x2="30.5" y1="308.7" y2="308.7" stroke="#555" stroke-width="0.8"/>
<text transform="translate(24.6 308.7) rotate(-90) scale(1 1.02)" font-size="6.9" text-anchor="middle" fill="#222" stroke="#222" stroke-width="0.1">0</text>
<line x1="28" x2="30.5" y1="290.95" y2="290.95" stroke="#555" stroke-width="0.8"/>
<text transform="translate(24.6 290.95) rotate(-90) scale(1 1.02)" font-size="6.9" text-anchor="middle" fill="#222" stroke="#222" stroke-width="0.1">5</text>
<line x1="28" x2="30.5" y1="273.2" y2="273.2" stroke="#555" stroke-width="0.8"/>
<text transform="translate(24.6 273.2) rotate(-90) scale(1 1.02)" font-size="6.9" text-anchor="middle" fill="#222" stroke="#222" stroke-width="0.1">10</text>
<line x1="28" x2="30.5" y1="255.45" y2="255.45" stroke="#555" stroke-width="0.8"/>
<text transform="translate(24.6 255.45) rotate(-90) scale(1 1.02)" font-size="6.9" text-anchor="middle" fill="#222" stroke="#222" stroke-width="0.1">15</text>
<line x1="28" x2="30.5" y1="237.7" y2="237.7" stroke="#555" stroke-width="0.8"/>
<text transform="translate(24.6 237.7) rotate(-90) scale(1 1.02)" font-size="6.9" text-anchor="middle" fill="#222" stroke="#222" stroke-width="0.1">20</text>
<line x1="34.8" x2="34.8" y1="314.2" y2="316.8" stroke="#555" stroke-width="0.8"/>
<text transform="translate(34.8 323.2) scale(1 1.0)" font-size="6.7" text-anchor="middle" fill="#222" stroke="#222" stroke-width="0.14">2000</text>
<line x1="86.92" x2="86.92" y1="314.2" y2="316.8" stroke="#555" stroke-width="0.8"/>
<text transform="translate(86.92 323.2) scale(1 1.0)" font-size="6.7" text-anchor="middle" fill="#222" stroke="#222" stroke-width="0.14">2005</text>
<line x1="139.05" x2="139.05" y1="314.2" y2="316.8" stroke="#555" stroke-width="0.8"/>
<text transform="translate(139.05 323.2) scale(1 1.0)" font-size="6.7" text-anchor="middle" fill="#222" stroke="#222" stroke-width="0.14">2010</text>
<line x1="191.18" x2="191.18" y1="314.2" y2="316.8" stroke="#555" stroke-width="0.8"/>
<text transform="translate(191.18 323.2) scale(1 1.0)" font-size="6.7" text-anchor="middle" fill="#222" stroke="#222" stroke-width="0.14">2015</text>
<line x1="243.3" x2="243.3" y1="314.2" y2="316.8" stroke="#555" stroke-width="0.8"/>
<text transform="translate(243.3 323.2) scale(1 1.0)" font-size="6.7" text-anchor="middle" fill="#222" stroke="#222" stroke-width="0.14">2020</text>
<text transform="translate(139.4 330.6) scale(1 1.08)" font-size="6.95" text-anchor="middle" fill="#222" stroke="#222" stroke-width="0.1">Year</text>
<text transform="translate(17.1 271.6) rotate(-90) scale(1 1.08)" font-size="6.65" text-anchor="middle" fill="#222" stroke="#222" stroke-width="0.1">Industrial Basic Capacity</text>
<text transform="translate(139.4 225.8) scale(1 1.1)" font-size="9.38" text-anchor="middle" fill="#222" stroke="#222" stroke-width="0.1">Non−metallic mineral products</text>
<rect x="69.6" y="335.8" width="139" height="49.5" fill="#ffffff" stroke="#8a8a8a" stroke-width="1"/>
<line x1="72.2" x2="97.5" y1="342.5" y2="342.5" stroke="#4d4d4d" stroke-width="1.15"/>
<text transform="translate(101.3 344.6) scale(1 1.06)" font-size="6.7" fill="#222" stroke="#222" stroke-width="0.1">China</text>
<line x1="72.2" x2="97.5" y1="351.7" y2="351.7" stroke="#333333" stroke-width="1.15" stroke-dasharray="0.95 1.05"/>
<text transform="translate(101.3 353.9) scale(1 1.06)" font-size="6.7" fill="#222" stroke="#222" stroke-width="0.1">Germany</text>
<line x1="72.2" x2="97.5" y1="361.1" y2="361.1" stroke="#727272" stroke-width="1.5" stroke-dasharray="7.6 2"/>
<text transform="translate(101.3 363.2) scale(1 1.06)" font-size="6.7" fill="#222" stroke="#222" stroke-width="0.1">United States</text>
<line x1="72.2" x2="97.5" y1="370.5" y2="370.5" stroke="#d2d2d2" stroke-width="1.1"/>
<text transform="translate(101.3 372.5) scale(1 1.06)" font-size="6.7" fill="#222" stroke="#222" stroke-width="0.1">Japan</text>
<line x1="72.2" x2="97.5" y1="379.7" y2="379.7" stroke="#c8c8c8" stroke-width="1.0"/>
<text transform="translate(101.3 381.8) scale(1 1.06)" font-size="6.7" fill="#222" stroke="#222" stroke-width="0.1">United Kingdom</text>
<line x1="155.9" x2="181.2" y1="342.5" y2="342.5" stroke="#4a4a4a" stroke-width="1.1" stroke-dasharray="3.9 1.8"/>
<text transform="translate(185 344.6) scale(1 1.06)" font-size="6.7" fill="#222" stroke="#222" stroke-width="0.1">Italy</text>
<line x1="155.9" x2="181.2" y1="351.7" y2="351.7" stroke="#505050" stroke-width="1.1" stroke-dasharray="7.7 1.5 0.6 1.5"/>
<text transform="translate(185 353.9) scale(1 1.06)" font-size="6.7" fill="#222" stroke="#222" stroke-width="0.1">Korea</text>
<line x1="155.9" x2="181.2" y1="361.1" y2="361.1" stroke="#707070" stroke-width="1.5" stroke-dasharray="3.8 1.45 0.5 1.45"/>
<text transform="translate(185 363.2) scale(1 1.06)" font-size="6.7" fill="#222" stroke="#222" stroke-width="0.1">Mexico</text>
<line x1="155.9" x2="181.2" y1="370.4" y2="370.4" stroke="#404040" stroke-width="1.25" stroke-dasharray="1.4 1.5 0.3 1.5"/>
<text transform="translate(185 372.5) scale(1 1.06)" font-size="6.7" fill="#222" stroke="#222" stroke-width="0.1">Spain</text>
<text transform="translate(31.5 393) scale(1 1.02)" font-size="5.45" fill="#222" stroke="#222" stroke-width="0.04">Data from OECD database</text>
<text transform="translate(129.9 414.2) scale(1 0.98)" font-size="11.2" text-anchor="middle" fill="#111" stroke="#111" stroke-width="0">(<tspan font-weight="bold">c</tspan>)</text>
<rect x="295.5" y="210.5" width="249.6" height="191.8" fill="#efefef"/>
<path d="M296.5,211.7H544.1" stroke="#e8e8e8" stroke-width="1"/>
<rect x="322" y="229" width="217.3" height="85.2" fill="#ffffff"/>
<line x1="322" x2="539.3" y1="304.6" y2="304.6" stroke="#eaeaea" stroke-width="0.8"/>
<line x1="322" x2="539.3" y1="286.75" y2="286.75" stroke="#eaeaea" stroke-width="0.8"/>
<line x1="322" x2="539.3" y1="268.9" y2="268.9" stroke="#eaeaea" stroke-width="0.8"/>
<line x1="322" x2="539.3" y1="251.05" y2="251.05" stroke="#eaeaea" stroke-width="0.8"/>
<line x1="322" x2="539.3" y1="233.2" y2="233.2" stroke="#eaeaea" stroke-width="0.8"/>
<path d="M326.2,235.2C327.93,235.15 333.14,234.9 336.6,234.9C340.07,234.9 343.54,235.1 347.01,235.2C350.48,235.3 353.95,235.32 357.41,235.5C360.88,235.68 364.35,236.08 367.82,236.3C371.29,236.52 374.76,236.27 378.22,236.8C381.69,237.33 385.16,238.5 388.63,239.5C392.1,240.5 395.57,242.02 399.03,242.8C402.5,243.58 405.97,244.68 409.44,244.2C412.91,243.72 416.38,240.32 419.84,239.9C423.31,239.48 426.78,240.93 430.25,241.7C433.72,242.47 437.19,243.77 440.65,244.5C444.12,245.23 447.59,245.2 451.06,246.1C454.53,247 458,248.92 461.46,249.9C464.93,250.88 468.4,251.48 471.87,252C475.34,252.52 478.81,252.83 482.27,253C485.74,253.17 489.21,252.97 492.68,253C496.15,253.03 499.62,252.35 503.08,253.2C506.55,254.05 510.72,256.2 513.49,258.1C516.26,260 518,262.78 519.73,264.6C521.47,266.42 521.47,268.35 523.89,269C526.32,269.65 532.57,268.58 534.3,268.5" fill="none" stroke="#d2d2d2" stroke-width="1.1"/>
<path d="M326.2,268.8C327.93,269.12 333.14,270.17 336.6,270.7C340.07,271.23 343.54,271.57 347.01,272C350.48,272.43 353.95,272.9 357.41,273.3C360.88,273.7 364.35,273.98 367.82,274.4C371.29,274.82 374.76,274.53 378.22,275.8C381.69,277.07 385.16,280.85 388.63,282C392.1,283.15 395.57,282.22 399.03,282.7C402.5,283.18 405.97,283.43 409.44,284.9C412.91,286.37 416.38,289.95 419.84,291.5C423.31,293.05 426.78,294.2 430.25,294.2C433.72,294.2 437.19,291.78 440.65,291.5C444.12,291.22 447.59,291.78 451.06,292.5C454.53,293.22 458,295.15 461.46,295.8C464.93,296.45 468.4,296.28 471.87,296.4C475.34,296.52 478.81,295.97 482.27,296.5C485.74,297.03 489.21,298.9 492.68,299.6C496.15,300.3 499.62,300.33 503.08,300.7C506.55,301.07 510.02,301.98 513.49,301.8C516.96,301.62 520.43,300.05 523.89,299.6C527.36,299.15 532.57,299.18 534.3,299.1" fill="none" stroke="#c8c8c8" stroke-width="1.0"/>
<path d="M326.2,237.4C327.93,237.45 333.14,237.17 336.6,237.7C340.07,238.23 343.54,239.65 347.01,240.6C350.48,241.55 353.95,242.3 357.41,243.4C360.88,244.5 364.35,246.38 367.82,247.2C371.29,248.02 374.76,248.12 378.22,248.3C381.69,248.48 385.16,248.22 388.63,248.3C392.1,248.38 395.57,248.53 399.03,248.8C402.5,249.07 405.97,249.98 409.44,249.9C412.91,249.82 416.38,248.2 419.84,248.3C423.31,248.4 426.78,250.13 430.25,250.5C433.72,250.87 437.19,250.38 440.65,250.5C444.12,250.62 447.59,250.75 451.06,251.2C454.53,251.65 458,252.47 461.46,253.2C464.93,253.93 468.4,255.57 471.87,255.6C475.34,255.63 478.81,253.72 482.27,253.4C485.74,253.08 489.21,253.73 492.68,253.7C496.15,253.67 499.62,253.32 503.08,253.2C506.55,253.08 510.02,252.73 513.49,253C516.96,253.27 520.43,254.68 523.89,254.8C527.36,254.92 532.57,253.88 534.3,253.7" fill="none" stroke="#727272" stroke-width="1.5" stroke-dasharray="7.6 2"/>
<path d="M326.2,293.1C327.93,293.18 333.14,294.87 336.6,293.6C340.07,292.33 343.54,286.5 347.01,285.5C350.48,284.5 353.95,286.7 357.41,287.6C360.88,288.5 364.35,290.67 367.82,290.9C371.29,291.13 374.76,290.48 378.22,289C381.69,287.52 385.16,283.13 388.63,282C392.1,280.87 395.57,281.8 399.03,282.2C402.5,282.6 405.97,283.95 409.44,284.4C412.91,284.85 416.38,284.33 419.84,284.9C423.31,285.47 426.78,287.53 430.25,287.8C433.72,288.07 437.19,285.98 440.65,286.5C444.12,287.02 447.59,290.72 451.06,290.9C454.53,291.08 458,286.6 461.46,287.6C464.93,288.6 468.4,296.08 471.87,296.9C475.34,297.72 478.81,293.05 482.27,292.5C485.74,291.95 489.21,293.42 492.68,293.6C496.15,293.78 499.62,293.32 503.08,293.6C506.55,293.88 510.02,293.93 513.49,295.3C516.96,296.67 520.43,300.72 523.89,301.8C527.36,302.88 532.57,301.8 534.3,301.8" fill="none" stroke="#707070" stroke-width="1.5" stroke-dasharray="3.8 1.45 0.5 1.45"/>
<path d="M326.2,275.1C327.93,275.07 333.14,275.35 336.6,274.9C340.07,274.45 343.54,273.1 347.01,272.4C350.48,271.7 353.95,271.2 357.41,270.7C360.88,270.2 364.35,269.58 367.82,269.4C371.29,269.22 374.76,269.08 378.22,269.6C381.69,270.12 385.16,272.13 388.63,272.5C392.1,272.87 395.57,271.75 399.03,271.8C402.5,271.85 405.97,272.72 409.44,272.8C412.91,272.88 416.38,272.53 419.84,272.3C423.31,272.07 426.78,271.4 430.25,271.4C433.72,271.4 437.19,272.42 440.65,272.3C444.12,272.18 447.59,270.78 451.06,270.7C454.53,270.62 458,271.35 461.46,271.8C464.93,272.25 468.4,273.03 471.87,273.4C475.34,273.77 478.81,273.95 482.27,274C485.74,274.05 489.21,274.03 492.68,273.7C496.15,273.37 499.62,272.32 503.08,272C506.55,271.68 510.02,272.17 513.49,271.8C516.96,271.43 520.43,270.28 523.89,269.8C527.36,269.32 532.57,269.05 534.3,268.9" fill="none" stroke="#505050" stroke-width="1.1" stroke-dasharray="7.7 1.5 0.6 1.5"/>
<path d="M326.2,278.1C327.93,278.97 333.14,282.38 336.6,283.3C340.07,284.22 343.54,283.88 347.01,283.6C350.48,283.32 353.95,281.57 357.41,281.6C360.88,281.63 364.35,282.98 367.82,283.8C371.29,284.62 374.76,285.8 378.22,286.5C381.69,287.2 385.16,288.17 388.63,288C392.1,287.83 395.57,285.65 399.03,285.5C402.5,285.35 406.15,287.17 409.44,287.1C412.73,287.03 416.03,284.83 418.8,285.1C421.58,285.37 424.18,287.68 426.09,288.7C428,289.72 427.82,290.65 430.25,291.2C432.68,291.75 437.19,291.5 440.65,292C444.12,292.5 447.59,293.28 451.06,294.2C454.53,295.12 458,297.05 461.46,297.5C464.93,297.95 468.4,296.78 471.87,296.9C475.34,297.02 478.81,298.75 482.27,298.2C485.74,297.65 489.21,294.45 492.68,293.6C496.15,292.75 499.62,292.92 503.08,293.1C506.55,293.28 510.02,294.25 513.49,294.7C516.96,295.15 520.43,295.52 523.89,295.8C527.36,296.08 532.57,296.3 534.3,296.4" fill="none" stroke="#4a4a4a" stroke-width="1.1" stroke-dasharray="3.9 1.8"/>
<path d="M326.2,297.1C327.93,297.17 333.14,297.53 336.6,297.5C340.07,297.47 343.54,297.27 347.01,296.9C350.48,296.53 353.95,295.38 357.41,295.3C360.88,295.22 364.35,296.13 367.82,296.4C371.29,296.67 374.76,296.37 378.22,296.9C381.69,297.43 385.16,299.42 388.63,299.6C392.1,299.78 395.57,297.9 399.03,298C402.5,298.1 405.97,299.75 409.44,300.2C412.91,300.65 416.38,300.25 419.84,300.7C423.31,301.15 426.78,302.35 430.25,302.9C433.72,303.45 437.19,303.37 440.65,304C444.12,304.63 447.59,305.78 451.06,306.7C454.53,307.62 458,309.22 461.46,309.5C464.93,309.78 468.4,308.32 471.87,308.4C475.34,308.48 478.81,310.07 482.27,310C485.74,309.93 489.21,308.73 492.68,308C496.15,307.27 499.62,306.53 503.08,305.6C506.55,304.67 510.02,302.03 513.49,302.4C516.96,302.77 520.43,306.53 523.89,307.8C527.36,309.07 532.57,309.63 534.3,310" fill="none" stroke="#404040" stroke-width="1.25" stroke-dasharray="1.4 1.5 0.3 1.5"/>
<path d="M326.2,250.8C327.93,250.65 333.14,250.13 336.6,249.9C340.07,249.67 343.54,249.62 347.01,249.4C350.48,249.18 353.95,248.52 357.41,248.6C360.88,248.68 364.35,249.23 367.82,249.9C371.29,250.57 374.76,251.78 378.22,252.6C381.69,253.42 385.16,254.43 388.63,254.8C392.1,255.17 395.57,254.43 399.03,254.8C402.5,255.17 405.97,256.82 409.44,257C412.91,257.18 416.38,255.93 419.84,255.9C423.31,255.87 426.78,256.38 430.25,256.8C433.72,257.22 437.19,257.95 440.65,258.4C444.12,258.85 447.59,259 451.06,259.5C454.53,260 458,260.97 461.46,261.4C464.93,261.83 468.4,261.87 471.87,262.1C475.34,262.33 478.81,262.77 482.27,262.8C485.74,262.83 489.21,262.45 492.68,262.3C496.15,262.15 499.62,262 503.08,261.9C506.55,261.8 510.89,261.25 513.49,261.7C516.09,262.15 516.96,263.38 518.69,264.6C520.43,265.82 521.29,268.35 523.89,269C526.5,269.65 532.57,268.58 534.3,268.5" fill="none" stroke="#333333" stroke-width="1.15" stroke-dasharray="0.95 1.05"/>
<path d="M326.2,275.1C327.93,275.1 333.14,275.55 336.6,275.1C340.07,274.65 343.54,273.67 347.01,272.4C350.48,271.13 353.95,269.32 357.41,267.5C360.88,265.68 364.35,262.7 367.82,261.5C371.29,260.3 374.76,260.05 378.22,260.3C381.69,260.55 385.16,262.92 388.63,263C392.1,263.08 395.57,261.62 399.03,260.8C402.5,259.98 405.97,258.37 409.44,258.1C412.91,257.83 416.38,259.33 419.84,259.2C423.31,259.07 426.78,258.22 430.25,257.3C433.72,256.38 437.19,254.6 440.65,253.7C444.12,252.8 447.59,252.02 451.06,251.9C454.53,251.78 458,253.12 461.46,253C464.93,252.88 468.4,251.62 471.87,251.2C475.34,250.78 478.81,250.72 482.27,250.5C485.74,250.28 489.21,250.37 492.68,249.9C496.15,249.43 499.62,248.28 503.08,247.7C506.55,247.12 510.02,246.37 513.49,246.4C516.96,246.43 520.43,247.68 523.89,247.9C527.36,248.12 532.57,247.73 534.3,247.7" fill="none" stroke="#4d4d4d" stroke-width="1.15"/>
<line x1="322" x2="322" y1="229" y2="314.2" stroke="#555" stroke-width="0.8"/>
<line x1="322" x2="539.3" y1="314.2" y2="314.2" stroke="#555" stroke-width="0.8"/>
<line x1="319.5" x2="322" y1="304.6" y2="304.6" stroke="#555" stroke-width="0.8"/>
<text transform="translate(316.1 304.6) rotate(-90) scale(1 1.02)" font-size="6.9" text-anchor="middle" fill="#222" stroke="#222" stroke-width="0.1">0</text>
<line x1="319.5" x2="322" y1="286.75" y2="286.75" stroke="#555" stroke-width="0.8"/>
<text transform="translate(316.1 286.75) rotate(-90) scale(1 1.02)" font-size="6.9" text-anchor="middle" fill="#222" stroke="#222" stroke-width="0.1">5</text>
<line x1="319.5" x2="322" y1="268.9" y2="268.9" stroke="#555" stroke-width="0.8"/>
<text transform="translate(316.1 268.9) rotate(-90) scale(1 1.02)" font-size="6.9" text-anchor="middle" fill="#222" stroke="#222" stroke-width="0.1">10</text>
<line x1="319.5" x2="322" y1="251.05" y2="251.05" stroke="#555" stroke-width="0.8"/>
<text transform="translate(316.1 251.05) rotate(-90) scale(1 1.02)" font-size="6.9" text-anchor="middle" fill="#222" stroke="#222" stroke-width="0.1">15</text>
<line x1="319.5" x2="322" y1="233.2" y2="233.2" stroke="#555" stroke-width="0.8"/>
<text transform="translate(316.1 233.2) rotate(-90) scale(1 1.02)" font-size="6.9" text-anchor="middle" fill="#222" stroke="#222" stroke-width="0.1">20</text>
<line x1="326.2" x2="326.2" y1="314.2" y2="316.8" stroke="#555" stroke-width="0.8"/>
<text transform="translate(326.2 323.2) scale(1 1.0)" font-size="6.7" text-anchor="middle" fill="#222" stroke="#222" stroke-width="0.14">2000</text>
<line x1="378.22" x2="378.22" y1="314.2" y2="316.8" stroke="#555" stroke-width="0.8"/>
<text transform="translate(378.22 323.2) scale(1 1.0)" font-size="6.7" text-anchor="middle" fill="#222" stroke="#222" stroke-width="0.14">2005</text>
<line x1="430.25" x2="430.25" y1="314.2" y2="316.8" stroke="#555" stroke-width="0.8"/>
<text transform="translate(430.25 323.2) scale(1 1.0)" font-size="6.7" text-anchor="middle" fill="#222" stroke="#222" stroke-width="0.14">2010</text>
<line x1="482.27" x2="482.27" y1="314.2" y2="316.8" stroke="#555" stroke-width="0.8"/>
<text transform="translate(482.27 323.2) scale(1 1.0)" font-size="6.7" text-anchor="middle" fill="#222" stroke="#222" stroke-width="0.14">2015</text>
<line x1="534.3" x2="534.3" y1="314.2" y2="316.8" stroke="#555" stroke-width="0.8"/>
<text transform="translate(534.3 323.2) scale(1 1.0)" font-size="6.7" text-anchor="middle" fill="#222" stroke="#222" stroke-width="0.14">2020</text>
<text transform="translate(430.65 330.6) scale(1 1.08)" font-size="6.95" text-anchor="middle" fill="#222" stroke="#222" stroke-width="0.1">Year</text>
<text transform="translate(308.6 271.6) rotate(-90) scale(1 1.08)" font-size="6.65" text-anchor="middle" fill="#222" stroke="#222" stroke-width="0.1">Industrial Basic Capacity</text>
<text transform="translate(430.65 225.8) scale(1 1.1)" font-size="9.38" text-anchor="middle" fill="#222" stroke="#222" stroke-width="0.1">Basic metals</text>
<rect x="360.6" y="335.8" width="139" height="49.5" fill="#ffffff" stroke="#8a8a8a" stroke-width="1"/>
<line x1="363.2" x2="388.5" y1="342.5" y2="342.5" stroke="#4d4d4d" stroke-width="1.15"/>
<text transform="translate(392.3 344.6) scale(1 1.06)" font-size="6.7" fill="#222" stroke="#222" stroke-width="0.1">China</text>
<line x1="363.2" x2="388.5" y1="351.7" y2="351.7" stroke="#333333" stroke-width="1.15" stroke-dasharray="0.95 1.05"/>
<text transform="translate(392.3 353.9) scale(1 1.06)" font-size="6.7" fill="#222" stroke="#222" stroke-width="0.1">Germany</text>
<line x1="363.2" x2="388.5" y1="361.1" y2="361.1" stroke="#727272" stroke-width="1.5" stroke-dasharray="7.6 2"/>
<text transform="translate(392.3 363.2) scale(1 1.06)" font-size="6.7" fill="#222" stroke="#222" stroke-width="0.1">United States</text>
<line x1="363.2" x2="388.5" y1="370.5" y2="370.5" stroke="#d2d2d2" stroke-width="1.1"/>
<text transform="translate(392.3 372.5) scale(1 1.06)" font-size="6.7" fill="#222" stroke="#222" stroke-width="0.1">Japan</text>
<line x1="363.2" x2="388.5" y1="379.7" y2="379.7" stroke="#c8c8c8" stroke-width="1.0"/>
<text transform="translate(392.3 381.8) scale(1 1.06)" font-size="6.7" fill="#222" stroke="#222" stroke-width="0.1">United Kingdom</text>
<line x1="446.9" x2="472.2" y1="342.5" y2="342.5" stroke="#4a4a4a" stroke-width="1.1" stroke-dasharray="3.9 1.8"/>
<text transform="translate(476 344.6) scale(1 1.06)" font-size="6.7" fill="#222" stroke="#222" stroke-width="0.1">Italy</text>
<line x1="446.9" x2="472.2" y1="351.7" y2="351.7" stroke="#505050" stroke-width="1.1" stroke-dasharray="7.7 1.5 0.6 1.5"/>
<text transform="translate(476 353.9) scale(1 1.06)" font-size="6.7" fill="#222" stroke="#222" stroke-width="0.1">Korea</text>
<line x1="446.9" x2="472.2" y1="361.1" y2="361.1" stroke="#707070" stroke-width="1.5" stroke-dasharray="3.8 1.45 0.5 1.45"/>
<text transform="translate(476 363.2) scale(1 1.06)" font-size="6.7" fill="#222" stroke="#222" stroke-width="0.1">Mexico</text>
<line x1="446.9" x2="472.2" y1="370.4" y2="370.4" stroke="#404040" stroke-width="1.25" stroke-dasharray="1.4 1.5 0.3 1.5"/>
<text transform="translate(476 372.5) scale(1 1.06)" font-size="6.7" fill="#222" stroke="#222" stroke-width="0.1">Spain</text>
<text transform="translate(322.5 393) scale(1 1.02)" font-size="5.45" fill="#222" stroke="#222" stroke-width="0.04">Data from OECD database</text>
<text transform="translate(420.9 414.2) scale(1 0.98)" font-size="11.2" text-anchor="middle" fill="#111" stroke="#111" stroke-width="0">(<tspan font-weight="bold">d</tspan>)</text>
<rect x="4.3" y="417.5" width="250.2" height="191.8" fill="#efefef"/>
<path d="M5.3,418.7H253.5" stroke="#e8e8e8" stroke-width="1"/>
<rect x="30.5" y="436" width="217.8" height="85.2" fill="#ffffff"/>
<line x1="30.5" x2="248.3" y1="516" y2="516" stroke="#eaeaea" stroke-width="0.8"/>
<line x1="30.5" x2="248.3" y1="492.33" y2="492.33" stroke="#eaeaea" stroke-width="0.8"/>
<line x1="30.5" x2="248.3" y1="468.67" y2="468.67" stroke="#eaeaea" stroke-width="0.8"/>
<line x1="30.5" x2="248.3" y1="445" y2="445" stroke="#eaeaea" stroke-width="0.8"/>
<path d="M34.8,444.9C36.54,445.17 41.75,446.17 45.22,446.5C48.7,446.83 52.17,446.95 55.65,446.9C59.12,446.85 62.6,446.35 66.07,446.2C69.55,446.05 73.03,445.48 76.5,446C79.97,446.52 83.45,448.57 86.92,449.3C90.4,450.03 93.88,450.13 97.35,450.4C100.82,450.67 104.3,450.63 107.77,450.9C111.25,451.17 114.72,451.73 118.2,452C121.68,452.27 125.15,452.32 128.62,452.5C132.1,452.68 135.58,453 139.05,453.1C142.53,453.2 146,452.92 149.47,453.1C152.95,453.28 156.42,453.65 159.9,454.2C163.37,454.75 166.85,455.85 170.32,456.4C173.8,456.95 177.28,457.23 180.75,457.5C184.22,457.77 187.7,457.83 191.18,458C194.65,458.17 198.13,458.33 201.6,458.5C205.08,458.67 208.55,458.83 212.02,459C215.5,459.17 218.97,459.33 222.45,459.5C225.92,459.67 229.4,459.75 232.88,460C236.35,460.25 241.56,460.83 243.3,461" fill="none" stroke="#d2d2d2" stroke-width="1.1"/>
<path d="M34.8,475.3C36.54,475.07 41.75,474.18 45.22,473.9C48.7,473.62 52.17,473.15 55.65,473.6C59.12,474.05 62.6,475.95 66.07,476.6C69.55,477.25 73.03,477.2 76.5,477.5C79.97,477.8 83.45,478.03 86.92,478.4C90.4,478.77 93.88,479.05 97.35,479.7C100.82,480.35 104.3,481.5 107.77,482.3C111.25,483.1 114.72,483.72 118.2,484.5C121.68,485.28 125.15,486.17 128.62,487C132.1,487.83 135.58,489.08 139.05,489.5C142.53,489.92 146,489.32 149.47,489.5C152.95,489.68 156.42,490.28 159.9,490.6C163.37,490.92 166.85,491.18 170.32,491.4C173.8,491.62 177.28,491.72 180.75,491.9C184.22,492.08 187.7,492.18 191.18,492.5C194.65,492.82 198.13,493.45 201.6,493.8C205.08,494.15 208.55,494.37 212.02,494.6C215.5,494.83 218.97,495.02 222.45,495.2C225.92,495.38 229.4,495.3 232.88,495.7C236.35,496.1 241.56,497.28 243.3,497.6" fill="none" stroke="#c8c8c8" stroke-width="1.0"/>
<path d="M34.8,440.5C36.54,440.45 41.75,440.1 45.22,440.2C48.7,440.3 52.17,440.82 55.65,441.1C59.12,441.38 62.6,441.67 66.07,441.9C69.55,442.13 73.03,442.48 76.5,442.5C79.97,442.52 83.45,442.05 86.92,442C90.4,441.95 93.88,442.05 97.35,442.2C100.82,442.35 104.3,442.6 107.77,442.9C111.25,443.2 114.72,443.57 118.2,444C121.68,444.43 125.15,445.13 128.62,445.5C132.1,445.87 135.58,445.97 139.05,446.2C142.53,446.43 146,446.72 149.47,446.9C152.95,447.08 156.42,447.05 159.9,447.3C163.37,447.55 166.85,448.22 170.32,448.4C173.8,448.58 177.28,448.35 180.75,448.4C184.22,448.45 187.7,448.7 191.18,448.7C194.65,448.7 198.13,448.22 201.6,448.4C205.08,448.58 208.55,449.47 212.02,449.8C215.5,450.13 218.97,450.22 222.45,450.4C225.92,450.58 229.4,450.37 232.88,450.9C236.35,451.43 241.56,453.15 243.3,453.6" fill="none" stroke="#727272" stroke-width="1.5" stroke-dasharray="7.6 2"/>
<path d="M34.8,498.5C36.54,497.85 41.75,495.73 45.22,494.6C48.7,493.47 52.17,491.93 55.65,491.7C59.12,491.47 63.47,493.17 66.07,493.2C68.68,493.23 69.55,492.52 71.29,491.9C73.02,491.28 73.89,489.9 76.5,489.5C79.11,489.1 83.45,489.43 86.92,489.5C90.4,489.57 93.88,489.68 97.35,489.9C100.82,490.12 104.3,490.43 107.77,490.8C111.25,491.17 114.72,491.55 118.2,492.1C121.68,492.65 125.15,493.18 128.62,494.1C132.1,495.02 135.58,496.92 139.05,497.6C142.53,498.28 146,498.52 149.47,498.2C152.95,497.88 156.42,496.05 159.9,495.7C163.37,495.35 166.85,495.92 170.32,496.1C173.8,496.28 177.28,496.92 180.75,496.8C184.22,496.68 187.7,495.48 191.18,495.4C194.65,495.32 198.13,496.02 201.6,496.3C205.08,496.58 208.55,496.65 212.02,497.1C215.5,497.55 218.97,498.77 222.45,499C225.92,499.23 229.4,498.13 232.88,498.5C236.35,498.87 241.56,500.75 243.3,501.2" fill="none" stroke="#707070" stroke-width="1.5" stroke-dasharray="3.8 1.45 0.5 1.45"/>
<path d="M34.8,466.2C36.54,466.1 41.75,466.05 45.22,465.6C48.7,465.15 52.17,464 55.65,463.5C59.12,463 62.6,462.88 66.07,462.6C69.55,462.32 73.03,462.15 76.5,461.8C79.97,461.45 83.45,460.8 86.92,460.5C90.4,460.2 93.88,459.97 97.35,460C100.82,460.03 104.3,460.35 107.77,460.7C111.25,461.05 114.72,461.97 118.2,462.1C121.68,462.23 125.15,461.73 128.62,461.5C132.1,461.27 135.58,460.83 139.05,460.7C142.53,460.57 146,460.7 149.47,460.7C152.95,460.7 156.42,460.75 159.9,460.7C163.37,460.65 166.85,460.45 170.32,460.4C173.8,460.35 177.28,460.25 180.75,460.4C184.22,460.55 187.7,461.18 191.18,461.3C194.65,461.42 198.13,461.28 201.6,461.1C205.08,460.92 208.55,460.32 212.02,460.2C215.5,460.08 218.97,460.08 222.45,460.4C225.92,460.72 229.4,461.68 232.88,462.1C236.35,462.52 241.56,462.77 243.3,462.9" fill="none" stroke="#505050" stroke-width="1.1" stroke-dasharray="7.7 1.5 0.6 1.5"/>
<path d="M34.8,486.4C36.54,485.9 41.75,484.12 45.22,483.4C48.7,482.68 52.17,482.38 55.65,482.1C59.12,481.82 62.6,481.8 66.07,481.7C69.55,481.6 73.03,481.53 76.5,481.5C79.97,481.47 83.45,481.5 86.92,481.5C90.4,481.5 93.88,481.4 97.35,481.5C100.82,481.6 104.3,481.75 107.77,482.1C111.25,482.45 114.72,483.08 118.2,483.6C121.68,484.12 125.15,484.67 128.62,485.2C132.1,485.73 135.58,486.45 139.05,486.8C142.53,487.15 146,486.95 149.47,487.3C152.95,487.65 156.42,488.5 159.9,488.9C163.37,489.3 166.85,489.38 170.32,489.7C173.8,490.02 177.28,490.47 180.75,490.8C184.22,491.13 187.7,491.48 191.18,491.7C194.65,491.92 198.13,491.97 201.6,492.1C205.08,492.23 208.55,492.35 212.02,492.5C215.5,492.65 218.97,492.77 222.45,493C225.92,493.23 229.4,493.53 232.88,493.9C236.35,494.27 241.56,494.98 243.3,495.2" fill="none" stroke="#4a4a4a" stroke-width="1.1" stroke-dasharray="3.9 1.8"/>
<path d="M34.8,498.7C36.54,498.3 41.75,496.8 45.22,496.3C48.7,495.8 52.17,496.03 55.65,495.7C59.12,495.37 62.6,494.3 66.07,494.3C69.55,494.3 73.03,495.37 76.5,495.7C79.97,496.03 83.45,496.07 86.92,496.3C90.4,496.53 93.88,496.88 97.35,497.1C100.82,497.32 104.3,497.28 107.77,497.6C111.25,497.92 114.72,498.4 118.2,499C121.68,499.6 125.15,500.42 128.62,501.2C132.1,501.98 135.58,502.92 139.05,503.7C142.53,504.48 146,505.13 149.47,505.9C152.95,506.67 156.42,507.63 159.9,508.3C163.37,508.97 166.85,509.37 170.32,509.9C173.8,510.43 177.28,511.05 180.75,511.5C184.22,511.95 187.7,512.32 191.18,512.6C194.65,512.88 198.13,512.98 201.6,513.2C205.08,513.42 208.55,513.78 212.02,513.9C215.5,514.02 218.97,513.83 222.45,513.9C225.92,513.97 229.4,513.82 232.88,514.3C236.35,514.78 241.56,516.38 243.3,516.8" fill="none" stroke="#404040" stroke-width="1.25" stroke-dasharray="1.4 1.5 0.3 1.5"/>
<path d="M34.8,469.1C36.54,468.8 41.75,467.78 45.22,467.3C48.7,466.82 52.17,466.52 55.65,466.2C59.12,465.88 62.6,465.63 66.07,465.4C69.55,465.17 73.03,464.98 76.5,464.8C79.97,464.62 83.45,464.43 86.92,464.3C90.4,464.17 93.88,464.18 97.35,464C100.82,463.82 104.3,463.02 107.77,463.2C111.25,463.38 114.72,464.42 118.2,465.1C121.68,465.78 125.15,466.88 128.62,467.3C132.1,467.72 135.58,467.52 139.05,467.6C142.53,467.68 146,467.62 149.47,467.8C152.95,467.98 156.42,468.52 159.9,468.7C163.37,468.88 166.85,468.83 170.32,468.9C173.8,468.97 177.28,469 180.75,469.1C184.22,469.2 187.7,469.42 191.18,469.5C194.65,469.58 198.13,469.55 201.6,469.6C205.08,469.65 208.55,469.73 212.02,469.8C215.5,469.87 218.97,469.88 222.45,470C225.92,470.12 229.4,470.13 232.88,470.5C236.35,470.87 241.56,471.92 243.3,472.2" fill="none" stroke="#333333" stroke-width="1.15" stroke-dasharray="0.95 1.05"/>
<path d="M34.8,475.2C36.54,474.22 41.75,471.25 45.22,469.3C48.7,467.35 52.17,465.27 55.65,463.5C59.12,461.73 62.6,460.02 66.07,458.7C69.55,457.38 73.03,456.45 76.5,455.6C79.97,454.75 83.45,454.12 86.92,453.6C90.4,453.08 93.88,452.77 97.35,452.5C100.82,452.23 104.3,452.53 107.77,452C111.25,451.47 114.72,450.15 118.2,449.3C121.68,448.45 125.15,447.45 128.62,446.9C132.1,446.35 135.58,446.07 139.05,446C142.53,445.93 146,446.5 149.47,446.5C152.95,446.5 156.42,446.17 159.9,446C163.37,445.83 166.85,445.58 170.32,445.5C173.8,445.42 177.28,445.57 180.75,445.5C184.22,445.43 187.7,445.23 191.18,445.1C194.65,444.97 198.13,444.88 201.6,444.7C205.08,444.52 208.55,444.3 212.02,444C215.5,443.7 218.97,443.12 222.45,442.9C225.92,442.68 229.4,442.82 232.88,442.7C236.35,442.58 241.56,442.28 243.3,442.2" fill="none" stroke="#4d4d4d" stroke-width="1.15"/>
<line x1="30.5" x2="30.5" y1="436" y2="521.2" stroke="#555" stroke-width="0.8"/>
<line x1="30.5" x2="248.3" y1="521.2" y2="521.2" stroke="#555" stroke-width="0.8"/>
<line x1="28" x2="30.5" y1="516" y2="516" stroke="#555" stroke-width="0.8"/>
<text transform="translate(24.6 516) rotate(-90) scale(1 1.02)" font-size="6.9" text-anchor="middle" fill="#222" stroke="#222" stroke-width="0.1">−10</text>
<line x1="28" x2="30.5" y1="492.33" y2="492.33" stroke="#555" stroke-width="0.8"/>
<text transform="translate(24.6 492.33) rotate(-90) scale(1 1.02)" font-size="6.9" text-anchor="middle" fill="#222" stroke="#222" stroke-width="0.1">0</text>
<line x1="28" x2="30.5" y1="468.67" y2="468.67" stroke="#555" stroke-width="0.8"/>
<text transform="translate(24.6 468.67) rotate(-90) scale(1 1.02)" font-size="6.9" text-anchor="middle" fill="#222" stroke="#222" stroke-width="0.1">10</text>
<line x1="28" x2="30.5" y1="445" y2="445" stroke="#555" stroke-width="0.8"/>
<text transform="translate(24.6 445) rotate(-90) scale(1 1.02)" font-size="6.9" text-anchor="middle" fill="#222" stroke="#222" stroke-width="0.1">20</text>
<line x1="34.8" x2="34.8" y1="521.2" y2="523.8" stroke="#555" stroke-width="0.8"/>
<text transform="translate(34.8 530.2) scale(1 1.0)" font-size="6.7" text-anchor="middle" fill="#222" stroke="#222" stroke-width="0.14">2000</text>
<line x1="86.92" x2="86.92" y1="521.2" y2="523.8" stroke="#555" stroke-width="0.8"/>
<text transform="translate(86.92 530.2) scale(1 1.0)" font-size="6.7" text-anchor="middle" fill="#222" stroke="#222" stroke-width="0.14">2005</text>
<line x1="139.05" x2="139.05" y1="521.2" y2="523.8" stroke="#555" stroke-width="0.8"/>
<text transform="translate(139.05 530.2) scale(1 1.0)" font-size="6.7" text-anchor="middle" fill="#222" stroke="#222" stroke-width="0.14">2010</text>
<line x1="191.18" x2="191.18" y1="521.2" y2="523.8" stroke="#555" stroke-width="0.8"/>
<text transform="translate(191.18 530.2) scale(1 1.0)" font-size="6.7" text-anchor="middle" fill="#222" stroke="#222" stroke-width="0.14">2015</text>
<line x1="243.3" x2="243.3" y1="521.2" y2="523.8" stroke="#555" stroke-width="0.8"/>
<text transform="translate(243.3 530.2) scale(1 1.0)" font-size="6.7" text-anchor="middle" fill="#222" stroke="#222" stroke-width="0.14">2020</text>
<text transform="translate(139.4 537.6) scale(1 1.08)" font-size="6.95" text-anchor="middle" fill="#222" stroke="#222" stroke-width="0.1">Year</text>
<text transform="translate(17.1 478.6) rotate(-90) scale(1 1.08)" font-size="6.65" text-anchor="middle" fill="#222" stroke="#222" stroke-width="0.1">Industrial Basic Capacity</text>
<text transform="translate(139.4 432.8) scale(1 1.1)" font-size="9.38" text-anchor="middle" fill="#222" stroke="#222" stroke-width="0.1">Computer,electro−optical industries</text>
<rect x="69.6" y="542.8" width="139" height="49.5" fill="#ffffff" stroke="#8a8a8a" stroke-width="1"/>
<line x1="72.2" x2="97.5" y1="549.5" y2="549.5" stroke="#4d4d4d" stroke-width="1.15"/>
<text transform="translate(101.3 551.6) scale(1 1.06)" font-size="6.7" fill="#222" stroke="#222" stroke-width="0.1">China</text>
<line x1="72.2" x2="97.5" y1="558.7" y2="558.7" stroke="#333333" stroke-width="1.15" stroke-dasharray="0.95 1.05"/>
<text transform="translate(101.3 560.9) scale(1 1.06)" font-size="6.7" fill="#222" stroke="#222" stroke-width="0.1">Germany</text>
<line x1="72.2" x2="97.5" y1="568.1" y2="568.1" stroke="#727272" stroke-width="1.5" stroke-dasharray="7.6 2"/>
<text transform="translate(101.3 570.2) scale(1 1.06)" font-size="6.7" fill="#222" stroke="#222" stroke-width="0.1">United States</text>
<line x1="72.2" x2="97.5" y1="577.5" y2="577.5" stroke="#d2d2d2" stroke-width="1.1"/>
<text transform="translate(101.3 579.5) scale(1 1.06)" font-size="6.7" fill="#222" stroke="#222" stroke-width="0.1">Japan</text>
<line x1="72.2" x2="97.5" y1="586.7" y2="586.7" stroke="#c8c8c8" stroke-width="1.0"/>
<text transform="translate(101.3 588.8) scale(1 1.06)" font-size="6.7" fill="#222" stroke="#222" stroke-width="0.1">United Kingdom</text>
<line x1="155.9" x2="181.2" y1="549.5" y2="549.5" stroke="#4a4a4a" stroke-width="1.1" stroke-dasharray="3.9 1.8"/>
<text transform="translate(185 551.6) scale(1 1.06)" font-size="6.7" fill="#222" stroke="#222" stroke-width="0.1">Italy</text>
<line x1="155.9" x2="181.2" y1="558.7" y2="558.7" stroke="#505050" stroke-width="1.1" stroke-dasharray="7.7 1.5 0.6 1.5"/>
<text transform="translate(185 560.9) scale(1 1.06)" font-size="6.7" fill="#222" stroke="#222" stroke-width="0.1">Korea</text>
<line x1="155.9" x2="181.2" y1="568.1" y2="568.1" stroke="#707070" stroke-width="1.5" stroke-dasharray="3.8 1.45 0.5 1.45"/>
<text transform="translate(185 570.2) scale(1 1.06)" font-size="6.7" fill="#222" stroke="#222" stroke-width="0.1">Mexico</text>
<line x1="155.9" x2="181.2" y1="577.4" y2="577.4" stroke="#404040" stroke-width="1.25" stroke-dasharray="1.4 1.5 0.3 1.5"/>
<text transform="translate(185 579.5) scale(1 1.06)" font-size="6.7" fill="#222" stroke="#222" stroke-width="0.1">Spain</text>
<text transform="translate(31.5 600.3) scale(1 1.02)" font-size="5.45" fill="#222" stroke="#222" stroke-width="0.04">Data from OECD database</text>
<text transform="translate(129.9 621.2) scale(1 0.98)" font-size="11.2" text-anchor="middle" fill="#111" stroke="#111" stroke-width="0">(<tspan font-weight="bold">e</tspan>)</text>
<rect x="295.5" y="417.5" width="249.6" height="191.8" fill="#efefef"/>
<path d="M296.5,418.7H544.1" stroke="#e8e8e8" stroke-width="1"/>
<rect x="322" y="436" width="217.3" height="85.2" fill="#ffffff"/>
<line x1="322" x2="539.3" y1="512.3" y2="512.3" stroke="#eaeaea" stroke-width="0.8"/>
<line x1="322" x2="539.3" y1="495.8" y2="495.8" stroke="#eaeaea" stroke-width="0.8"/>
<line x1="322" x2="539.3" y1="479.3" y2="479.3" stroke="#eaeaea" stroke-width="0.8"/>
<line x1="322" x2="539.3" y1="462.8" y2="462.8" stroke="#eaeaea" stroke-width="0.8"/>
<line x1="322" x2="539.3" y1="446.3" y2="446.3" stroke="#eaeaea" stroke-width="0.8"/>
<path d="M326.2,467.3C329.67,467.2 340.07,466.7 347.01,466.7C353.95,466.7 362.62,467.17 367.82,467.3C373.02,467.43 374.76,467.32 378.22,467.5C381.69,467.68 385.16,467.98 388.63,468.4C392.1,468.82 395.57,469.47 399.03,470C402.5,470.53 405.97,470.97 409.44,471.6C412.91,472.23 416.38,473.15 419.84,473.8C423.31,474.45 426.78,474.9 430.25,475.5C433.72,476.1 437.19,476.73 440.65,477.4C444.12,478.07 447.59,479.03 451.06,479.5C454.53,479.97 458,479.97 461.46,480.2C464.93,480.43 468.4,480.52 471.87,480.9C475.34,481.28 478.81,481.98 482.27,482.5C485.74,483.02 489.21,483.42 492.68,484C496.15,484.58 499.62,485.33 503.08,486C506.55,486.67 510.02,487.33 513.49,488C516.96,488.67 520.43,489.1 523.89,490C527.36,490.9 532.57,492.83 534.3,493.4" fill="none" stroke="#d2d2d2" stroke-width="1.1"/>
<path d="M326.2,471C329.67,471.17 340.07,471.72 347.01,472C353.95,472.28 362.62,472.47 367.82,472.7C373.02,472.93 374.76,472.68 378.22,473.4C381.69,474.12 385.16,475.97 388.63,477C392.1,478.03 395.57,478.88 399.03,479.6C402.5,480.32 405.97,480.82 409.44,481.3C412.91,481.78 416.38,482.05 419.84,482.5C423.31,482.95 426.78,483.4 430.25,484C433.72,484.6 437.19,485.38 440.65,486.1C444.12,486.82 447.59,487.57 451.06,488.3C454.53,489.03 458,489.97 461.46,490.5C464.93,491.03 468.4,491.2 471.87,491.5C475.34,491.8 478.81,492.05 482.27,492.3C485.74,492.55 489.21,492.78 492.68,493C496.15,493.22 499.62,493.35 503.08,493.6C506.55,493.85 510.02,494.02 513.49,494.5C516.96,494.98 520.43,495.67 523.89,496.5C527.36,497.33 532.57,499 534.3,499.5" fill="none" stroke="#c8c8c8" stroke-width="1.0"/>
<path d="M326.2,440.3C327.93,440.38 333.14,440.58 336.6,440.8C340.07,441.02 343.54,441.18 347.01,441.6C350.48,442.02 353.95,442.75 357.41,443.3C360.88,443.85 364.35,444.53 367.82,444.9C371.29,445.27 374.76,445.32 378.22,445.5C381.69,445.68 385.16,445.65 388.63,446C392.1,446.35 395.57,447.15 399.03,447.6C402.5,448.05 405.97,448.48 409.44,448.7C412.91,448.92 416.38,448.47 419.84,448.9C423.31,449.33 426.78,450.42 430.25,451.3C433.72,452.18 437.19,453.53 440.65,454.2C444.12,454.87 447.59,455.03 451.06,455.3C454.53,455.57 458,455.62 461.46,455.8C464.93,455.98 468.4,456.3 471.87,456.4C475.34,456.5 478.81,456.22 482.27,456.4C485.74,456.58 489.21,456.98 492.68,457.5C496.15,458.02 499.62,459.05 503.08,459.5C506.55,459.95 510.02,460.03 513.49,460.2C516.96,460.37 520.43,459.52 523.89,460.5C527.36,461.48 532.57,465.17 534.3,466.1" fill="none" stroke="#727272" stroke-width="1.5" stroke-dasharray="7.6 2"/>
<path d="M326.2,499.3C327.93,499.35 333.14,500.55 336.6,499.6C340.07,498.65 344.24,494.43 347.01,493.6C349.78,492.77 349.78,494.95 353.25,494.6C356.72,494.25 363.66,492.22 367.82,491.5C371.98,490.78 374.76,490.5 378.22,490.3C381.69,490.1 385.16,490.03 388.63,490.3C392.1,490.57 395.57,491.28 399.03,491.9C402.5,492.52 405.97,493.43 409.44,494C412.91,494.57 416.38,495.4 419.84,495.3C423.31,495.2 426.78,493.23 430.25,493.4C433.72,493.57 437.19,495.1 440.65,496.3C444.12,497.5 447.59,499.4 451.06,500.6C454.53,501.8 458,502.88 461.46,503.5C464.93,504.12 468.4,503.9 471.87,504.3C475.34,504.7 478.81,505.37 482.27,505.9C485.74,506.43 489.21,506.93 492.68,507.5C496.15,508.07 499.62,508.72 503.08,509.3C506.55,509.88 510.02,510.43 513.49,511C516.96,511.57 520.43,511.65 523.89,512.7C527.36,513.75 532.57,516.53 534.3,517.3" fill="none" stroke="#707070" stroke-width="1.5" stroke-dasharray="3.8 1.45 0.5 1.45"/>
<path d="M326.2,503.7C327.93,503.62 333.14,504.12 336.6,503.2C340.07,502.28 343.54,499.65 347.01,498.2C350.48,496.75 353.95,495.57 357.41,494.5C360.88,493.43 364.35,493.13 367.82,491.8C371.29,490.47 374.76,487.48 378.22,486.5C381.69,485.52 385.16,486.12 388.63,485.9C392.1,485.68 395.57,486.02 399.03,485.2C402.5,484.38 405.97,481.7 409.44,481C412.91,480.3 416.38,480.63 419.84,481C423.31,481.37 426.78,483 430.25,483.2C433.72,483.4 437.19,482.2 440.65,482.2C444.12,482.2 447.59,482.97 451.06,483.2C454.53,483.43 458,483.47 461.46,483.6C464.93,483.73 468.4,483.5 471.87,484C475.34,484.5 478.81,486.17 482.27,486.6C485.74,487.03 489.21,486.53 492.68,486.6C496.15,486.67 499.62,486.43 503.08,487C506.55,487.57 510.02,489.25 513.49,490C516.96,490.75 520.43,490.93 523.89,491.5C527.36,492.07 532.57,493.08 534.3,493.4" fill="none" stroke="#505050" stroke-width="1.1" stroke-dasharray="7.7 1.5 0.6 1.5"/>
<path d="M326.2,472C327.93,471.67 333.14,470.67 336.6,470C340.07,469.33 343.54,468.63 347.01,468C350.48,467.37 353.95,466.73 357.41,466.2C360.88,465.67 364.35,464.85 367.82,464.8C371.29,464.75 374.76,465.67 378.22,465.9C381.69,466.13 385.16,466.2 388.63,466.2C392.1,466.2 395.57,466.32 399.03,465.9C402.5,465.48 405.97,463.83 409.44,463.7C412.91,463.57 416.38,464.57 419.84,465.1C423.31,465.63 426.78,466.08 430.25,466.9C433.72,467.72 437.19,468.82 440.65,470C444.12,471.18 447.59,473.18 451.06,474C454.53,474.82 458,474.52 461.46,474.9C464.93,475.28 468.4,475.78 471.87,476.3C475.34,476.82 478.81,477.6 482.27,478C485.74,478.4 489.21,478.32 492.68,478.7C496.15,479.08 499.62,480.2 503.08,480.3C506.55,480.4 510.02,479.18 513.49,479.3C516.96,479.42 520.43,480.28 523.89,481C527.36,481.72 532.57,483.17 534.3,483.6" fill="none" stroke="#4a4a4a" stroke-width="1.1" stroke-dasharray="3.9 1.8"/>
<path d="M326.2,489.6C327.93,489.53 333.14,489.55 336.6,489.2C340.07,488.85 343.54,488.1 347.01,487.5C350.48,486.9 353.95,485.95 357.41,485.6C360.88,485.25 364.35,485.43 367.82,485.4C371.29,485.37 374.76,485.47 378.22,485.4C381.69,485.33 385.16,485.23 388.63,485C392.1,484.77 395.57,484.87 399.03,484C402.5,483.13 405.97,480.42 409.44,479.8C412.91,479.18 416.38,479.85 419.84,480.3C423.31,480.75 426.78,481.78 430.25,482.5C433.72,483.22 437.19,483.4 440.65,484.6C444.12,485.8 447.59,488.65 451.06,489.7C454.53,490.75 458,490.53 461.46,490.9C464.93,491.27 468.4,491.13 471.87,491.9C475.34,492.67 478.81,494.82 482.27,495.5C485.74,496.18 489.21,495.83 492.68,496C496.15,496.17 499.62,496.25 503.08,496.5C506.55,496.75 510.02,497.08 513.49,497.5C516.96,497.92 520.43,498.35 523.89,499C527.36,499.65 532.57,501 534.3,501.4" fill="none" stroke="#404040" stroke-width="1.25" stroke-dasharray="1.4 1.5 0.3 1.5"/>
<path d="M326.2,457.5C327.93,457.32 333.14,456.77 336.6,456.4C340.07,456.03 343.54,455.85 347.01,455.3C350.48,454.75 353.95,453.57 357.41,453.1C360.88,452.63 364.35,452.45 367.82,452.5C371.29,452.55 374.76,453.25 378.22,453.4C381.69,453.55 385.16,453.37 388.63,453.4C392.1,453.43 395.57,453.52 399.03,453.6C402.5,453.68 405.97,453.75 409.44,453.9C412.91,454.05 416.38,454.27 419.84,454.5C423.31,454.73 426.78,454.9 430.25,455.3C433.72,455.7 437.19,456.08 440.65,456.9C444.12,457.72 447.59,459.5 451.06,460.2C454.53,460.9 458,460.73 461.46,461.1C464.93,461.47 468.4,462.05 471.87,462.4C475.34,462.75 478.81,462.93 482.27,463.2C485.74,463.47 489.21,463.7 492.68,464C496.15,464.3 499.62,464.67 503.08,465C506.55,465.33 510.02,465.58 513.49,466C516.96,466.42 520.43,466.92 523.89,467.5C527.36,468.08 532.57,469.17 534.3,469.5" fill="none" stroke="#333333" stroke-width="1.15" stroke-dasharray="0.95 1.05"/>
<path d="M326.2,475.2C327.93,474.6 333.14,472.92 336.6,471.6C340.07,470.28 343.54,468.75 347.01,467.3C350.48,465.85 353.95,464.18 357.41,462.9C360.88,461.62 364.35,460.5 367.82,459.6C371.29,458.7 374.76,458.13 378.22,457.5C381.69,456.87 385.16,456.27 388.63,455.8C392.1,455.33 395.57,455.07 399.03,454.7C402.5,454.33 405.97,454.08 409.44,453.6C412.91,453.12 416.38,452.2 419.84,451.8C423.31,451.4 427.48,451.75 430.25,451.2C433.02,450.65 434.76,449.28 436.49,448.5C438.23,447.72 438.23,447.28 440.65,446.5C443.08,445.72 447.59,444.3 451.06,443.8C454.53,443.3 458,443.58 461.46,443.5C464.93,443.42 468.4,443.38 471.87,443.3C475.34,443.22 478.81,443.28 482.27,443C485.74,442.72 489.21,441.92 492.68,441.6C496.15,441.28 499.62,441.22 503.08,441.1C506.55,440.98 510.02,440.95 513.49,440.9C516.96,440.85 520.43,440.83 523.89,440.8C527.36,440.77 532.57,440.72 534.3,440.7" fill="none" stroke="#4d4d4d" stroke-width="1.15"/>
<line x1="322" x2="322" y1="436" y2="521.2" stroke="#555" stroke-width="0.8"/>
<line x1="322" x2="539.3" y1="521.2" y2="521.2" stroke="#555" stroke-width="0.8"/>
<line x1="319.5" x2="322" y1="512.3" y2="512.3" stroke="#555" stroke-width="0.8"/>
<text transform="translate(316.1 512.3) rotate(-90) scale(1 1.02)" font-size="6.9" text-anchor="middle" fill="#222" stroke="#222" stroke-width="0.1">0</text>
<line x1="319.5" x2="322" y1="495.8" y2="495.8" stroke="#555" stroke-width="0.8"/>
<text transform="translate(316.1 495.8) rotate(-90) scale(1 1.02)" font-size="6.9" text-anchor="middle" fill="#222" stroke="#222" stroke-width="0.1">5</text>
<line x1="319.5" x2="322" y1="479.3" y2="479.3" stroke="#555" stroke-width="0.8"/>
<text transform="translate(316.1 479.3) rotate(-90) scale(1 1.02)" font-size="6.9" text-anchor="middle" fill="#222" stroke="#222" stroke-width="0.1">10</text>
<line x1="319.5" x2="322" y1="462.8" y2="462.8" stroke="#555" stroke-width="0.8"/>
<text transform="translate(316.1 462.8) rotate(-90) scale(1 1.02)" font-size="6.9" text-anchor="middle" fill="#222" stroke="#222" stroke-width="0.1">15</text>
<line x1="319.5" x2="322" y1="446.3" y2="446.3" stroke="#555" stroke-width="0.8"/>
<text transform="translate(316.1 446.3) rotate(-90) scale(1 1.02)" font-size="6.9" text-anchor="middle" fill="#222" stroke="#222" stroke-width="0.1">20</text>
<line x1="326.2" x2="326.2" y1="521.2" y2="523.8" stroke="#555" stroke-width="0.8"/>
<text transform="translate(326.2 530.2) scale(1 1.0)" font-size="6.7" text-anchor="middle" fill="#222" stroke="#222" stroke-width="0.14">2000</text>
<line x1="378.22" x2="378.22" y1="521.2" y2="523.8" stroke="#555" stroke-width="0.8"/>
<text transform="translate(378.22 530.2) scale(1 1.0)" font-size="6.7" text-anchor="middle" fill="#222" stroke="#222" stroke-width="0.14">2005</text>
<line x1="430.25" x2="430.25" y1="521.2" y2="523.8" stroke="#555" stroke-width="0.8"/>
<text transform="translate(430.25 530.2) scale(1 1.0)" font-size="6.7" text-anchor="middle" fill="#222" stroke="#222" stroke-width="0.14">2010</text>
<line x1="482.27" x2="482.27" y1="521.2" y2="523.8" stroke="#555" stroke-width="0.8"/>
<text transform="translate(482.27 530.2) scale(1 1.0)" font-size="6.7" text-anchor="middle" fill="#222" stroke="#222" stroke-width="0.14">2015</text>
<line x1="534.3" x2="534.3" y1="521.2" y2="523.8" stroke="#555" stroke-width="0.8"/>
<text transform="translate(534.3 530.2) scale(1 1.0)" font-size="6.7" text-anchor="middle" fill="#222" stroke="#222" stroke-width="0.14">2020</text>
<text transform="translate(430.65 537.6) scale(1 1.08)" font-size="6.95" text-anchor="middle" fill="#222" stroke="#222" stroke-width="0.1">Year</text>
<text transform="translate(308.6 478.6) rotate(-90) scale(1 1.08)" font-size="6.65" text-anchor="middle" fill="#222" stroke="#222" stroke-width="0.1">Industrial Basic Capacity</text>
<text transform="translate(430.65 432.8) scale(1 1.1)" font-size="9.38" text-anchor="middle" fill="#222" stroke="#222" stroke-width="0.1">Fabricated metal products</text>
<rect x="360.6" y="542.8" width="139" height="49.5" fill="#ffffff" stroke="#8a8a8a" stroke-width="1"/>
<line x1="363.2" x2="388.5" y1="549.5" y2="549.5" stroke="#4d4d4d" stroke-width="1.15"/>
<text transform="translate(392.3 551.6) scale(1 1.06)" font-size="6.7" fill="#222" stroke="#222" stroke-width="0.1">China</text>
<line x1="363.2" x2="388.5" y1="558.7" y2="558.7" stroke="#333333" stroke-width="1.15" stroke-dasharray="0.95 1.05"/>
<text transform="translate(392.3 560.9) scale(1 1.06)" font-size="6.7" fill="#222" stroke="#222" stroke-width="0.1">Germany</text>
<line x1="363.2" x2="388.5" y1="568.1" y2="568.1" stroke="#727272" stroke-width="1.5" stroke-dasharray="7.6 2"/>
<text transform="translate(392.3 570.2) scale(1 1.06)" font-size="6.7" fill="#222" stroke="#222" stroke-width="0.1">United States</text>
<line x1="363.2" x2="388.5" y1="577.5" y2="577.5" stroke="#d2d2d2" stroke-width="1.1"/>
<text transform="translate(392.3 579.5) scale(1 1.06)" font-size="6.7" fill="#222" stroke="#222" stroke-width="0.1">Japan</text>
<line x1="363.2" x2="388.5" y1="586.7" y2="586.7" stroke="#c8c8c8" stroke-width="1.0"/>
<text transform="translate(392.3 588.8) scale(1 1.06)" font-size="6.7" fill="#222" stroke="#222" stroke-width="0.1">United Kingdom</text>
<line x1="446.9" x2="472.2" y1="549.5" y2="549.5" stroke="#4a4a4a" stroke-width="1.1" stroke-dasharray="3.9 1.8"/>
<text transform="translate(476 551.6) scale(1 1.06)" font-size="6.7" fill="#222" stroke="#222" stroke-width="0.1">Italy</text>
<line x1="446.9" x2="472.2" y1="558.7" y2="558.7" stroke="#505050" stroke-width="1.1" stroke-dasharray="7.7 1.5 0.6 1.5"/>
<text transform="translate(476 560.9) scale(1 1.06)" font-size="6.7" fill="#222" stroke="#222" stroke-width="0.1">Korea</text>
<line x1="446.9" x2="472.2" y1="568.1" y2="568.1" stroke="#707070" stroke-width="1.5" stroke-dasharray="3.8 1.45 0.5 1.45"/>
<text transform="translate(476 570.2) scale(1 1.06)" font-size="6.7" fill="#222" stroke="#222" stroke-width="0.1">Mexico</text>
<line x1="446.9" x2="472.2" y1="577.4" y2="577.4" stroke="#404040" stroke-width="1.25" stroke-dasharray="1.4 1.5 0.3 1.5"/>
<text transform="translate(476 579.5) scale(1 1.06)" font-size="6.7" fill="#222" stroke="#222" stroke-width="0.1">Spain</text>
<text transform="translate(322.5 600.3) scale(1 1.02)" font-size="5.45" fill="#222" stroke="#222" stroke-width="0.04">Data from OECD database</text>
<text transform="translate(420.9 621.2) scale(1 0.98)" font-size="11.2" text-anchor="middle" fill="#111" stroke="#111" stroke-width="0">(<tspan font-weight="bold">f</tspan>)</text>
</svg>
</body></html>
